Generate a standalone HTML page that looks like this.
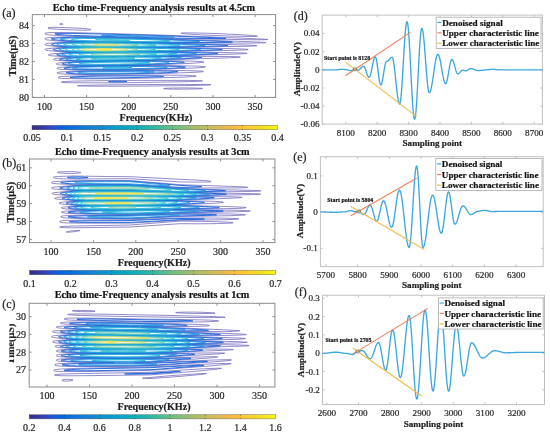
<!DOCTYPE html>
<html><head><meta charset="utf-8"><title>Echo time-frequency analysis</title>
<style>html,body{margin:0;padding:0;background:#fff;}body{width:550px;height:434px;overflow:hidden;}svg{display:block;}</style>
</head><body>
<svg width="550" height="434" viewBox="0 0 550 434" font-family="'Liberation Serif', 'Times New Roman', serif"><defs><filter id="soft" x="-5%" y="-5%" width="110%" height="110%"><feGaussianBlur stdDeviation="0.35"/></filter><clipPath id="clipa"><rect x="32.3" y="14.6" width="243.3" height="82.80000000000001"/></clipPath><clipPath id="clipb"><rect x="29.5" y="159.0" width="245.39999999999998" height="83.6"/></clipPath><clipPath id="clipc"><rect x="29.2" y="303.3" width="245.7" height="83.69999999999999"/></clipPath><clipPath id="ylclipc"><rect x="9.4" y="303.3" width="30" height="83.69999999999999"/></clipPath></defs><rect width="550" height="434" fill="#fff"/><g clip-path="url(#clipa)"><g filter="url(#soft)"><path d="M61.7 24.6 60.9 24.6 60.1 24.4 59.8 24.2 59.8 24.0 60.1 23.8 61.1 23.6 61.9 23.6 62.5 23.8 62.9 24.0 62.9 24.2 62.5 24.4ZM89.3 30.0 85.7 30.2 81.3 30.2 58.9 29.3 51.7 28.8 49.0 28.4 48.3 28.2 47.9 28.0 48.0 27.8 48.5 27.6 49.7 27.5 51.9 27.3 55.1 27.3 59.9 27.4 78.9 28.2 85.2 28.6 89.9 29.2 90.7 29.4 91.0 29.6 90.7 29.8ZM267.7 39.6 262.1 39.8 248.9 39.7 178.1 38.7 145.9 38.1 90.3 36.7 69.5 36.1 52.5 35.2 49.3 35.0 46.9 34.6 45.4 34.2 45.0 34.0 44.8 33.8 44.8 33.6 45.0 33.4 45.3 33.2 47.1 32.8 49.9 32.6 53.7 32.5 73.1 32.6 101.1 33.3 155.5 34.9 205.1 36.7 257.3 38.8 264.5 39.2 267.0 39.4 267.9 39.6ZM256.3 36.4 250.9 36.5 242.5 36.4 228.4 36.0 212.7 35.4 200.2 34.8 190.2 34.2 183.1 33.6 181.7 33.4 181.0 33.2 181.7 33.0 184.1 32.9 192.7 32.9 205.1 33.2 221.7 33.8 238.7 34.6 251.3 35.4 256.9 36.0 257.5 36.2ZM104.9 70.0 80.1 70.1 74.5 70.0 60.7 69.3 58.4 69.0 57.2 68.6 57.0 68.4 57.0 68.2 57.3 68.0 58.1 67.7 59.3 67.5 62.1 67.2 71.5 66.5 79.5 66.2 101.7 65.8 72.1 65.7 59.7 64.9 57.5 64.6 56.5 64.3 56.1 64.0 56.1 63.8 56.3 63.6 56.8 63.4 57.7 63.1 60.1 62.8 68.1 62.1 74.7 61.7 94.7 61.2 91.9 61.1 78.5 61.2 68.7 61.0 57.3 60.4 55.3 60.1 53.9 59.8 53.5 59.6 53.4 59.4 53.5 59.2 53.7 59.0 54.5 58.7 55.9 58.4 63.9 57.7 71.1 57.2 70.4 57.0 63.5 56.7 50.5 55.7 48.9 55.4 48.5 55.2 48.3 55.0 48.3 54.8 48.5 54.6 49.3 54.3 51.9 53.9 65.3 52.7 73.5 52.3 82.7 52.2 66.9 52.0 59.3 51.5 48.7 50.7 46.5 50.4 45.3 50.0 45.1 49.8 45.0 49.6 45.1 49.4 45.5 49.1 46.9 48.8 48.9 48.5 60.5 47.5 65.9 47.2 57.1 46.5 47.5 45.5 45.9 45.2 45.1 44.9 44.8 44.6 44.8 44.4 45.1 44.1 45.7 43.8 46.5 43.6 48.5 43.3 57.5 42.5 62.5 42.2 67.7 42.1 77.5 42.1 83.5 42.1 85.7 42.2 88.0 42.2 87.5 42.2 87.3 42.0 77.9 41.9 67.1 41.5 57.5 40.9 49.5 40.2 46.7 39.8 45.7 39.5 45.1 39.2 44.8 38.8 44.9 38.6 45.1 38.4 45.9 38.1 46.9 37.9 49.5 37.6 55.5 37.3 69.1 36.9 79.9 36.9 93.1 37.3 98.7 37.3 101.9 37.4 107.7 37.5 110.9 37.6 116.5 37.7 119.7 37.8 125.9 37.9 128.5 38.0 134.5 38.1 137.3 38.3 143.1 38.3 146.1 38.5 159.3 38.7 246.2 41.6 260.7 42.2 265.8 42.6 265.4 42.8 262.7 42.9 251.7 43.1 166.3 42.9 161.9 42.9 159.2 43.0 171.1 43.1 237.7 44.8 250.2 45.2 256.5 45.6 256.9 45.8 255.1 46.0 244.3 46.3 168.5 47.4 189.3 47.7 237.8 48.8 244.3 49.1 248.1 49.4 248.1 49.6 247.9 49.6 246.4 49.8 243.2 50.0 230.5 50.4 181.9 51.5 168.1 51.7 146.4 51.8 150.1 51.9 166.9 51.9 186.5 52.1 232.1 52.7 244.4 53.0 246.8 53.2 247.1 53.4 245.5 53.6 238.1 54.0 174.7 55.9 168.1 56.0 199.7 56.4 229.7 56.5 237.3 56.7 239.1 56.8 240.3 57.0 239.7 57.2 237.6 57.4 229.6 57.8 200.7 58.7 172.3 59.7 151.5 60.3 127.3 60.6 128.9 60.7 159.3 60.6 189.7 61.1 196.3 61.3 201.0 61.6 203.1 61.8 203.9 62.0 203.8 62.2 201.2 62.6 193.3 63.2 163.9 64.5 152.9 64.8 132.1 65.3 119.2 65.4 119.7 65.5 160.1 65.5 174.7 65.7 191.1 66.0 198.4 66.2 204.2 66.6 205.4 66.8 205.5 67.0 204.7 67.2 203.1 67.4 194.6 68.0 165.7 69.1 135.5 69.7ZM102.3 42.2 102.2 42.2ZM118.4 42.4 117.7 42.4ZM135.1 42.6 127.5 42.6ZM152.1 42.8 142.1 42.8ZM141.2 52.0 128.4 52.0ZM124.7 60.8 121.9 60.7 112.7 60.8 114.3 60.9ZM109.3 61.0 106.7 60.9 98.1 61.0 99.7 61.1ZM118.2 65.6 107.9 65.5 102.2 65.6 102.7 65.7 105.3 65.7ZM105.3 74.4 88.5 74.5 80.5 74.5 63.3 74.0 60.5 73.8 58.6 73.6 57.2 73.2 57.0 73.0 57.0 72.8 57.3 72.6 57.8 72.4 60.2 72.0 71.5 71.3 82.7 70.8 89.7 70.7 129.9 70.2 148.1 70.2 164.7 70.3 190.1 70.7 199.8 71.0 202.5 71.2 203.5 71.4 203.3 71.6 202.1 71.8 194.7 72.3 165.7 73.4 136.7 74.1ZM110.5 78.6 96.1 78.8 83.3 78.8 67.1 78.6 61.5 78.4 58.9 78.0 58.3 77.8 58.0 77.6 58.0 77.4 58.3 77.2 59.9 76.8 62.1 76.5 65.3 76.3 77.5 75.9 99.5 75.4 150.7 75.1 171.9 75.2 183.3 75.3 192.4 75.6 195.2 75.8 196.3 76.0 196.1 76.2 192.6 76.6 185.4 77.0 175.3 77.4 144.9 78.1ZM122.3 82.8 116.1 82.9 78.5 82.8 66.5 82.7 62.1 82.4 61.3 82.2 61.3 82.0 62.1 81.8 66.9 81.4 74.7 81.1 119.7 80.4 188.3 80.4 199.4 80.6 202.4 80.8 202.4 81.0 200.4 81.2 196.2 81.4 188.7 81.6ZM118.9 86.2 92.5 86.2 79.2 86.0 77.5 85.8 78.7 85.6 82.6 85.4 100.1 85.0 137.9 84.6 176.3 84.4 200.7 84.5 208.5 84.6 210.9 84.8 208.9 85.0 203.8 85.2 184.5 85.6 152.5 86.0ZM193.3 89.0 185.1 89.1 172.5 89.1 165.9 88.9 164.6 88.8 163.6 88.6 164.6 88.4 166.1 88.3 172.3 88.1 183.1 87.9 192.1 88.0 200.1 88.2 202.5 88.4 202.1 88.6 199.1 88.8Z" fill="none" stroke="#6e66b8" stroke-width="0.75" stroke-linejoin="round"/><path d="M223.3 38.6 205.9 38.5 170.0 38.0 150.0 37.6 118.3 36.8 72.6 35.4 64.6 35.0 59.0 34.6 55.6 34.2 54.9 34.0 55.0 33.8 56.1 33.7 59.5 33.5 65.1 33.4 72.9 33.4 101.5 34.0 132.4 34.8 165.5 35.8 207.7 37.4 223.6 38.2 225.8 38.4ZM219.9 42.4 154.3 42.6 104.3 42.0 80.5 41.6 72.2 41.2 58.5 40.2 53.4 39.6 51.7 39.2 51.3 39.0 51.4 38.8 52.5 38.5 55.9 38.1 60.6 37.8 71.5 37.4 79.9 37.3 99.3 37.6 154.3 38.9 221.3 41.4 229.9 41.8 232.5 42.0 232.4 42.2ZM170.1 47.0 131.3 47.2 82.7 47.2 67.4 46.8 59.9 46.1 55.9 45.7 53.1 45.2 51.6 44.8 51.3 44.6 51.3 44.4 52.3 44.0 55.7 43.4 59.9 43.0 67.9 42.4 89.1 42.4 111.1 42.6 167.7 43.4 214.9 44.8 224.3 45.2 227.1 45.4 228.0 45.6 224.5 45.9 214.1 46.2ZM125.3 51.8 84.9 52.0 68.5 51.8 57.3 50.6 53.8 50.0 53.2 49.8 53.0 49.6 53.2 49.4 53.7 49.2 57.2 48.6 62.5 48.0 69.1 47.4 84.7 47.2 124.1 47.3 168.1 47.7 215.7 49.0 222.2 49.4 222.4 49.6 220.4 49.8 211.2 50.2 168.1 51.4ZM97.5 60.8 82.5 60.9 78.4 60.8 66.9 60.4 62.6 60.0 60.0 59.6 59.5 59.4 59.4 59.2 59.8 59.0 60.7 58.8 63.7 58.4 68.7 57.9 82.3 57.1 98.5 56.8 91.7 56.7 73.5 56.8 64.6 56.2 59.3 55.6 57.3 55.2 56.7 55.0 56.6 54.8 56.9 54.6 58.5 54.2 64.2 53.4 73.5 52.7 92.1 52.4 117.3 52.2 166.7 52.2 207.5 53.0 215.3 53.3 217.2 53.4 217.9 53.6 216.4 53.8 209.3 54.2 166.7 55.8 140.3 56.2 143.5 56.3 151.5 56.3 173.7 56.6 193.1 57.0 198.8 57.2 201.7 57.4 201.7 57.6 197.0 58.0 180.9 58.8 151.3 60.0ZM135.1 56.4 125.5 56.4 128.7 56.5ZM116.3 56.6 107.6 56.6 111.1 56.7ZM95.3 65.4 73.5 65.2 67.4 64.8 64.3 64.5 62.7 64.2 62.1 63.9 62.0 63.8 62.4 63.6 64.2 63.2 67.3 62.8 73.7 62.2 84.1 61.8 94.1 61.5 128.1 61.0 151.3 61.1 162.1 61.2 175.1 61.6 182.8 62.0 184.3 62.2 184.4 62.4 181.6 62.8 173.0 63.4 161.6 64.0 152.3 64.4 129.3 65.0ZM125.7 69.4 101.7 69.6 78.3 69.5 73.5 69.3 68.3 69.0 64.9 68.6 64.1 68.4 64.0 68.2 64.5 68.0 66.9 67.6 74.9 66.9 79.5 66.7 93.2 66.4 112.5 66.1 128.7 65.9 148.1 66.0 167.1 66.2 175.9 66.4 183.7 66.8 185.3 67.0 185.4 67.2 182.2 67.6 171.9 68.2 162.5 68.6 141.3 69.1ZM112.5 73.8 85.3 74.0 75.7 73.7 68.3 73.3 66.3 73.0 66.0 72.8 66.6 72.6 67.8 72.4 75.2 71.8 85.5 71.3 126.6 70.8 141.3 70.7 161.1 71.0 168.7 71.1 175.6 71.4 177.7 71.6 177.9 71.8 174.1 72.2 166.8 72.6 149.3 73.2 133.7 73.6ZM104.7 78.0 94.1 78.1 84.3 78.0 75.3 77.8 71.0 77.6 70.0 77.4 70.7 77.2 72.7 77.0 80.1 76.6 88.1 76.3 108.9 76.0 142.1 75.9 155.9 76.0 161.9 76.2 163.6 76.4 162.5 76.6 159.5 76.8 149.1 77.2 130.8 77.6ZM120.9 82.0 114.5 82.0 108.5 81.8 108.5 81.6 111.3 81.4 116.4 81.2 120.9 81.2 125.9 81.4 126.9 81.6Z" fill="none" stroke="#1560d8" stroke-width="0.9" stroke-linejoin="round"/><path d="M173.9 37.2 167.2 37.2 156.3 37.0 139.0 36.6 113.6 35.8 104.2 35.4 101.4 35.2 105.3 35.1 115.3 35.2 149.7 36.0 171.2 36.8 174.4 37.0 174.1 37.2ZM173.5 42.0 154.3 42.2 133.5 42.0 104.1 41.6 82.9 41.2 76.9 40.9 67.2 40.2 61.9 39.6 60.1 39.2 60.0 39.0 60.6 38.8 62.0 38.6 66.9 38.2 74.1 37.9 80.1 37.7 102.3 38.0 136.5 38.8 157.1 39.4 193.0 41.0 199.2 41.4 199.4 41.6 194.5 41.8ZM150.3 46.8 129.7 46.9 107.9 47.0 89.1 46.9 79.3 46.7 67.7 46.3 59.8 45.4 57.8 45.0 57.2 44.8 56.9 44.6 57.0 44.4 57.4 44.2 59.2 43.8 67.7 42.9 82.3 42.6 95.7 42.6 114.6 42.8 133.5 43.1 167.7 43.8 200.3 45.0 203.6 45.2 205.1 45.4 204.2 45.6 193.6 46.0 167.9 46.6ZM126.7 51.6 103.9 51.8 85.3 51.8 76.5 51.6 68.5 51.3 61.7 50.4 59.8 50.0 59.2 49.8 59.0 49.6 59.2 49.4 59.7 49.2 61.7 48.8 68.5 47.9 78.7 47.5 87.7 47.4 112.9 47.4 167.9 48.1 194.2 49.0 200.3 49.4 200.5 49.6 198.8 49.8 195.4 50.0 168.1 51.0ZM107.1 56.4 89.5 56.5 75.7 56.4 73.5 56.3 65.2 55.6 63.7 55.4 62.2 55.0 62.0 54.8 62.2 54.6 63.6 54.2 66.5 53.8 73.5 53.1 77.3 53.0 94.7 52.6 115.1 52.4 137.7 52.4 159.9 52.5 166.7 52.6 189.2 53.2 195.1 53.5 196.5 53.6 196.7 53.8 195.2 54.0 188.6 54.4 166.7 55.4 138.1 56.0ZM103.7 60.4 92.1 60.5 82.5 60.5 71.9 60.0 67.0 59.6 66.1 59.4 65.8 59.2 66.1 59.0 68.1 58.6 75.2 58.0 84.1 57.4 93.3 57.2 108.6 57.0 137.5 56.7 151.3 56.7 175.5 57.3 180.7 57.6 181.2 57.6 181.6 57.8 180.6 58.0 175.5 58.4 151.3 59.6 136.7 59.9ZM114.5 64.8 93.9 65.0 75.1 64.7 71.1 64.4 69.2 64.2 68.4 64.0 68.1 63.8 68.2 63.6 69.9 63.2 74.3 62.7 86.2 62.2 94.1 61.9 104.3 61.7 133.3 61.5 151.5 61.6 160.1 61.8 167.5 62.2 168.8 62.4 168.9 62.6 168.0 62.8 163.8 63.2 153.1 63.8 129.3 64.6ZM114.9 69.0 91.5 69.0 76.9 68.8 73.7 68.6 72.5 68.4 72.1 68.2 72.4 68.0 75.0 67.6 79.7 67.3 104.1 66.7 128.5 66.5 144.5 66.5 159.9 66.8 165.7 67.0 167.3 67.2 167.2 67.4 165.7 67.6 162.9 67.8 152.8 68.2 130.8 68.8ZM112.1 73.2 89.1 73.4 82.2 73.2 79.4 73.0 78.3 72.8 78.4 72.6 79.5 72.4 81.6 72.2 87.9 71.9 135.1 71.3 142.1 71.4 150.2 71.6 153.7 71.8 154.3 72.0 153.0 72.2 150.2 72.4 139.9 72.8 131.9 73.0Z" fill="none" stroke="#2190e0" stroke-width="0.9" stroke-linejoin="round"/><path d="M163.3 41.4 153.9 41.6 133.1 41.5 113.5 41.3 98.1 41.0 79.9 40.4 73.4 39.8 71.5 39.4 71.4 39.2 72.1 39.0 73.1 38.9 75.9 38.6 82.7 38.4 98.9 38.5 118.0 38.8 151.8 39.8 164.0 40.4 169.2 40.8 170.1 41.0 168.8 41.2ZM136.3 46.6 105.1 46.7 83.7 46.5 76.4 46.2 68.9 45.7 65.4 45.2 63.9 44.8 63.7 44.6 63.8 44.4 65.3 44.0 68.9 43.5 74.7 43.2 84.9 42.9 97.3 42.9 110.8 43.0 128.3 43.3 142.5 43.6 168.3 44.4 178.4 45.0 179.9 45.2 179.7 45.4 177.5 45.6 167.7 46.0ZM123.5 51.4 99.9 51.6 81.7 51.4 73.3 51.0 69.1 50.6 65.9 50.0 65.4 49.8 65.2 49.6 65.4 49.4 66.6 49.0 68.5 48.6 70.3 48.4 79.3 47.8 85.9 47.6 104.7 47.6 124.5 47.7 166.1 48.6 174.3 49.0 179.0 49.4 179.2 49.6 178.0 49.8 175.5 50.0 168.1 50.4 162.7 50.5ZM121.1 56.0 106.7 56.1 91.7 56.1 81.3 56.0 73.5 55.6 70.2 55.2 69.3 55.0 68.9 54.8 69.1 54.6 69.6 54.4 73.5 53.8 83.1 53.3 93.3 53.0 107.9 52.7 136.5 52.7 149.5 52.8 166.5 53.1 175.2 53.6 176.8 53.8 176.7 54.0 172.7 54.4 166.7 54.8 161.4 55.0 142.0 55.6ZM101.5 60.0 93.1 60.1 85.9 60.0 81.4 59.8 77.0 59.4 76.0 59.2 75.9 59.0 76.6 58.8 77.8 58.6 82.5 58.1 89.7 57.8 96.9 57.6 109.9 57.4 142.3 57.2 154.2 57.4 160.1 57.7 160.9 57.8 161.7 58.0 161.0 58.2 157.0 58.6 151.3 59.0 145.8 59.2 135.7 59.5ZM115.7 64.2 103.9 64.3 93.9 64.3 82.4 64.0 79.9 63.8 79.4 63.6 80.3 63.4 85.1 63.0 93.1 62.6 99.8 62.4 119.5 62.1 136.6 62.2 145.5 62.4 149.3 62.6 149.9 62.8 148.5 63.0 141.9 63.4 132.3 63.8ZM125.5 68.0 108.5 68.1 102.9 68.0 102.8 67.8 107.5 67.6 116.7 67.4 126.5 67.4 132.1 67.6 130.7 67.8Z" fill="none" stroke="#1cb0d8" stroke-width="0.9" stroke-linejoin="round"/><path d="M129.5 40.4 120.1 40.6 105.9 40.4 97.4 40.0 95.7 39.8 95.7 39.6 98.7 39.4 101.5 39.4 112.3 39.5 127.4 40.0 129.8 40.2 129.7 40.4ZM117.3 46.4 100.7 46.4 84.9 46.1 79.6 45.8 75.3 45.4 72.9 45.0 72.4 44.8 72.3 44.6 72.5 44.4 73.3 44.2 77.5 43.7 82.8 43.4 89.5 43.2 101.5 43.2 113.9 43.4 127.9 43.6 140.2 44.0 148.5 44.4 154.5 44.8 155.9 45.0 156.2 45.2 155.0 45.4 148.1 45.8 137.5 46.2ZM117.3 51.2 99.9 51.3 83.9 51.2 79.1 50.9 74.5 50.4 72.5 50.0 72.0 49.8 71.8 49.6 72.0 49.4 72.4 49.2 73.2 49.0 75.8 48.6 79.9 48.2 84.9 48.0 106.9 47.8 123.1 48.0 130.9 48.2 150.4 49.0 155.2 49.4 155.6 49.6 154.5 49.8 152.1 50.0 143.9 50.4 128.4 51.0ZM107.5 55.8 96.9 55.8 88.9 55.6 83.9 55.4 79.7 55.0 79.0 54.8 78.9 54.6 79.4 54.4 80.5 54.2 84.7 53.8 92.8 53.4 113.5 53.0 133.1 53.0 149.3 53.4 154.3 53.7 155.9 53.8 156.9 54.0 156.5 54.2 152.7 54.6 140.7 55.2 123.5 55.6ZM105.7 59.2 96.7 59.3 93.4 59.2 91.9 59.1 91.3 59.0 91.2 58.8 92.4 58.6 97.5 58.3 107.3 58.2 124.1 58.1 132.9 58.2 134.7 58.4 125.1 58.8Z" fill="none" stroke="#30bcd0" stroke-width="0.9" stroke-linejoin="round"/><path d="M115.1 46.0 101.6 46.0 88.9 45.7 85.3 45.5 82.7 45.2 81.7 45.0 81.1 44.8 81.1 44.6 81.6 44.4 82.6 44.2 86.1 43.9 89.5 43.8 97.5 43.6 112.5 43.7 130.4 44.2 134.2 44.4 138.3 44.8 138.9 45.0 138.6 45.2 137.2 45.4 129.3 45.8ZM107.5 51.0 90.3 50.9 84.8 50.8 81.5 50.6 79.7 50.3 78.3 50.0 77.8 49.8 77.7 49.6 77.8 49.4 78.9 49.0 80.0 48.8 84.3 48.4 92.5 48.2 102.9 48.1 123.9 48.4 129.3 48.6 134.7 49.0 137.2 49.4 137.4 49.6 136.9 49.8 133.8 50.2 127.7 50.6 120.9 50.8ZM122.3 55.2 111.5 55.3 99.1 55.2 93.6 55.0 91.8 54.8 91.1 54.6 91.4 54.4 92.7 54.2 94.9 54.0 105.1 53.6 117.3 53.4 131.5 53.6 137.5 53.8 139.5 54.0 140.1 54.2 139.4 54.4 134.3 54.8Z" fill="none" stroke="#70c8b0" stroke-width="0.9" stroke-linejoin="round"/><path d="M108.5 45.4 103.5 45.4 98.5 45.2 95.1 45.0 94.1 44.8 94.6 44.6 95.9 44.5 100.3 44.3 105.3 44.3 112.5 44.4 116.8 44.6 119.0 44.8 119.1 45.0 116.7 45.2ZM108.3 50.6 98.1 50.6 89.2 50.4 84.7 50.1 83.5 49.9 83.0 49.8 82.8 49.6 82.9 49.4 83.6 49.2 85.1 49.0 94.9 48.6 107.1 48.5 119.7 48.8 124.4 49.0 126.6 49.2 127.7 49.4 127.9 49.6 127.4 49.8 126.0 50.0 123.0 50.2Z" fill="none" stroke="#d8dc70" stroke-width="0.9" stroke-linejoin="round"/><path d="M109.7 49.8 102.1 49.9 98.0 49.8 96.6 49.6 97.4 49.4 99.5 49.3 105.5 49.2 110.5 49.4 111.3 49.6Z" fill="none" stroke="#f5e638" stroke-width="0.9" stroke-linejoin="round"/></g></g>
<line x1="44.50" y1="97.40" x2="44.50" y2="95.00" stroke="#8c8c8c" stroke-width="1.0"/>
<line x1="44.50" y1="14.60" x2="44.50" y2="17.00" stroke="#8c8c8c" stroke-width="1.0"/>
<line x1="86.62" y1="97.40" x2="86.62" y2="95.00" stroke="#8c8c8c" stroke-width="1.0"/>
<line x1="86.62" y1="14.60" x2="86.62" y2="17.00" stroke="#8c8c8c" stroke-width="1.0"/>
<line x1="128.74" y1="97.40" x2="128.74" y2="95.00" stroke="#8c8c8c" stroke-width="1.0"/>
<line x1="128.74" y1="14.60" x2="128.74" y2="17.00" stroke="#8c8c8c" stroke-width="1.0"/>
<line x1="170.86" y1="97.40" x2="170.86" y2="95.00" stroke="#8c8c8c" stroke-width="1.0"/>
<line x1="170.86" y1="14.60" x2="170.86" y2="17.00" stroke="#8c8c8c" stroke-width="1.0"/>
<line x1="212.98" y1="97.40" x2="212.98" y2="95.00" stroke="#8c8c8c" stroke-width="1.0"/>
<line x1="212.98" y1="14.60" x2="212.98" y2="17.00" stroke="#8c8c8c" stroke-width="1.0"/>
<line x1="255.10" y1="97.40" x2="255.10" y2="95.00" stroke="#8c8c8c" stroke-width="1.0"/>
<line x1="255.10" y1="14.60" x2="255.10" y2="17.00" stroke="#8c8c8c" stroke-width="1.0"/>
<line x1="32.30" y1="97.40" x2="34.70" y2="97.40" stroke="#8c8c8c" stroke-width="1.0"/>
<line x1="275.60" y1="97.40" x2="273.20" y2="97.40" stroke="#8c8c8c" stroke-width="1.0"/>
<line x1="32.30" y1="79.45" x2="34.70" y2="79.45" stroke="#8c8c8c" stroke-width="1.0"/>
<line x1="275.60" y1="79.45" x2="273.20" y2="79.45" stroke="#8c8c8c" stroke-width="1.0"/>
<line x1="32.30" y1="61.50" x2="34.70" y2="61.50" stroke="#8c8c8c" stroke-width="1.0"/>
<line x1="275.60" y1="61.50" x2="273.20" y2="61.50" stroke="#8c8c8c" stroke-width="1.0"/>
<line x1="32.30" y1="43.55" x2="34.70" y2="43.55" stroke="#8c8c8c" stroke-width="1.0"/>
<line x1="275.60" y1="43.55" x2="273.20" y2="43.55" stroke="#8c8c8c" stroke-width="1.0"/>
<line x1="32.30" y1="25.60" x2="34.70" y2="25.60" stroke="#8c8c8c" stroke-width="1.0"/>
<line x1="275.60" y1="25.60" x2="273.20" y2="25.60" stroke="#8c8c8c" stroke-width="1.0"/>
<rect x="32.30" y="14.60" width="243.30" height="82.80" fill="none" stroke="#8c8c8c" stroke-width="1.0"/>
<text x="44.50" y="109.50" font-size="10" font-weight="normal" text-anchor="middle" fill="#262626" stroke="#262626" stroke-width="0.2" >100</text>
<text x="86.62" y="109.50" font-size="10" font-weight="normal" text-anchor="middle" fill="#262626" stroke="#262626" stroke-width="0.2" >150</text>
<text x="128.74" y="109.50" font-size="10" font-weight="normal" text-anchor="middle" fill="#262626" stroke="#262626" stroke-width="0.2" >200</text>
<text x="170.86" y="109.50" font-size="10" font-weight="normal" text-anchor="middle" fill="#262626" stroke="#262626" stroke-width="0.2" >250</text>
<text x="212.98" y="109.50" font-size="10" font-weight="normal" text-anchor="middle" fill="#262626" stroke="#262626" stroke-width="0.2" >300</text>
<text x="255.10" y="109.50" font-size="10" font-weight="normal" text-anchor="middle" fill="#262626" stroke="#262626" stroke-width="0.2" >350</text>
<text x="29.10" y="100.70" font-size="10" font-weight="normal" text-anchor="end" fill="#262626" stroke="#262626" stroke-width="0.2" >80</text>
<text x="29.10" y="82.75" font-size="10" font-weight="normal" text-anchor="end" fill="#262626" stroke="#262626" stroke-width="0.2" >81</text>
<text x="29.10" y="64.80" font-size="10" font-weight="normal" text-anchor="end" fill="#262626" stroke="#262626" stroke-width="0.2" >82</text>
<text x="29.10" y="46.85" font-size="10" font-weight="normal" text-anchor="end" fill="#262626" stroke="#262626" stroke-width="0.2" >83</text>
<text x="29.10" y="28.90" font-size="10" font-weight="normal" text-anchor="end" fill="#262626" stroke="#262626" stroke-width="0.2" >84</text>
<text x="2.20" y="16.60" font-size="12" font-weight="normal" text-anchor="start" fill="#222" stroke="#222" stroke-width="0.2" >(a)</text>
<text x="153.95" y="10.90" font-size="10.25" font-weight="bold" text-anchor="middle" fill="#111" stroke="#111" stroke-width="0.2" >Echo time-Frequency analysis results at 4.5cm</text>
<text x="155.95" y="121.00" font-size="10.15" font-weight="bold" text-anchor="middle" fill="#222" stroke="#222" stroke-width="0.2" >Frequency(KHz)</text>
<text x="12.90" y="56.00" font-size="10.2" font-weight="bold" text-anchor="middle" fill="#222" stroke="#222" stroke-width="0.2" transform="rotate(-90 12.90 56.00)" dy="0.33em">Time(μS)</text>
<linearGradient id="cbga" x1="0" x2="1" y1="0" y2="0"><stop offset="0.000" stop-color="#352a87"/><stop offset="0.031" stop-color="#36369f"/><stop offset="0.062" stop-color="#3243b9"/><stop offset="0.094" stop-color="#2152d2"/><stop offset="0.125" stop-color="#0462e0"/><stop offset="0.156" stop-color="#046ce0"/><stop offset="0.188" stop-color="#0c74dd"/><stop offset="0.219" stop-color="#127cd8"/><stop offset="0.250" stop-color="#1484d4"/><stop offset="0.281" stop-color="#118dd2"/><stop offset="0.312" stop-color="#0a97d1"/><stop offset="0.344" stop-color="#069fce"/><stop offset="0.375" stop-color="#06a6c7"/><stop offset="0.406" stop-color="#09abbf"/><stop offset="0.438" stop-color="#13b0b6"/><stop offset="0.469" stop-color="#21b4ac"/><stop offset="0.500" stop-color="#33b8a1"/><stop offset="0.531" stop-color="#47bb95"/><stop offset="0.562" stop-color="#5ebe89"/><stop offset="0.594" stop-color="#75bf7e"/><stop offset="0.625" stop-color="#8bbf75"/><stop offset="0.656" stop-color="#9fbe6d"/><stop offset="0.688" stop-color="#b1bd66"/><stop offset="0.719" stop-color="#c2bc5f"/><stop offset="0.750" stop-color="#d3bb58"/><stop offset="0.781" stop-color="#e3b951"/><stop offset="0.812" stop-color="#f2b949"/><stop offset="0.844" stop-color="#febf3c"/><stop offset="0.875" stop-color="#fec932"/><stop offset="0.906" stop-color="#f9d329"/><stop offset="0.938" stop-color="#f5de21"/><stop offset="0.969" stop-color="#f5eb18"/><stop offset="1.000" stop-color="#f9fb0e"/></linearGradient>
<rect x="32.00" y="125.30" width="245.50" height="4.50" fill="url(#cbga)" stroke="#555" stroke-width="0.4"/>
<text x="32.00" y="141.40" font-size="10" font-weight="normal" text-anchor="middle" fill="#262626" stroke="#262626" stroke-width="0.2" >0.05</text>
<line x1="67.07" y1="125.30" x2="67.07" y2="126.30" stroke="#333" stroke-width="0.6"/>
<line x1="67.07" y1="129.80" x2="67.07" y2="128.80" stroke="#333" stroke-width="0.6"/>
<text x="67.07" y="141.40" font-size="10" font-weight="normal" text-anchor="middle" fill="#262626" stroke="#262626" stroke-width="0.2" >0.1</text>
<line x1="102.14" y1="125.30" x2="102.14" y2="126.30" stroke="#333" stroke-width="0.6"/>
<line x1="102.14" y1="129.80" x2="102.14" y2="128.80" stroke="#333" stroke-width="0.6"/>
<text x="102.14" y="141.40" font-size="10" font-weight="normal" text-anchor="middle" fill="#262626" stroke="#262626" stroke-width="0.2" >0.15</text>
<line x1="137.21" y1="125.30" x2="137.21" y2="126.30" stroke="#333" stroke-width="0.6"/>
<line x1="137.21" y1="129.80" x2="137.21" y2="128.80" stroke="#333" stroke-width="0.6"/>
<text x="137.21" y="141.40" font-size="10" font-weight="normal" text-anchor="middle" fill="#262626" stroke="#262626" stroke-width="0.2" >0.2</text>
<line x1="172.29" y1="125.30" x2="172.29" y2="126.30" stroke="#333" stroke-width="0.6"/>
<line x1="172.29" y1="129.80" x2="172.29" y2="128.80" stroke="#333" stroke-width="0.6"/>
<text x="172.29" y="141.40" font-size="10" font-weight="normal" text-anchor="middle" fill="#262626" stroke="#262626" stroke-width="0.2" >0.25</text>
<line x1="207.36" y1="125.30" x2="207.36" y2="126.30" stroke="#333" stroke-width="0.6"/>
<line x1="207.36" y1="129.80" x2="207.36" y2="128.80" stroke="#333" stroke-width="0.6"/>
<text x="207.36" y="141.40" font-size="10" font-weight="normal" text-anchor="middle" fill="#262626" stroke="#262626" stroke-width="0.2" >0.3</text>
<line x1="242.43" y1="125.30" x2="242.43" y2="126.30" stroke="#333" stroke-width="0.6"/>
<line x1="242.43" y1="129.80" x2="242.43" y2="128.80" stroke="#333" stroke-width="0.6"/>
<text x="242.43" y="141.40" font-size="10" font-weight="normal" text-anchor="middle" fill="#262626" stroke="#262626" stroke-width="0.2" >0.35</text>
<text x="277.50" y="141.40" font-size="10" font-weight="normal" text-anchor="middle" fill="#262626" stroke="#262626" stroke-width="0.2" >0.4</text>
<g clip-path="url(#clipb)"><g filter="url(#soft)"><path d="M73.7 173.4 68.1 173.4 61.9 173.2 58.2 172.8 57.6 172.6 57.4 172.4 57.7 172.2 58.7 172.0 62.9 171.7 69.7 171.6 74.5 171.7 79.3 172.2 80.4 172.4 80.9 172.6 80.4 172.8 79.2 173.0ZM206.9 182.0 195.7 182.1 179.9 181.9 129.9 178.7 105.1 178.8 78.3 179.1 63.3 178.8 58.7 178.6 55.5 178.3 53.7 177.9 53.1 177.6 53.1 177.4 53.4 177.2 53.9 177.0 54.8 176.8 58.3 176.5 63.3 176.3 74.7 176.0 79.9 176.1 106.1 176.5 130.1 176.7 179.9 179.3 191.2 179.8 201.8 180.4 208.7 181.0 210.9 181.4 211.0 181.6 210.1 181.8ZM135.3 214.2 130.1 214.3 118.1 214.3 88.3 214.1 79.7 213.8 70.1 213.5 65.2 213.2 62.4 212.8 61.4 212.4 61.3 212.2 61.4 212.0 61.7 211.8 63.2 211.4 65.7 211.1 72.9 210.7 81.5 210.4 97.1 210.0 84.5 209.9 78.9 209.8 65.1 208.8 63.0 208.6 61.9 208.3 61.3 208.0 61.3 207.8 61.5 207.6 62.5 207.2 63.8 207.0 76.5 206.0 83.1 205.6 75.7 205.4 61.5 204.1 60.0 203.8 59.2 203.4 59.1 203.2 59.2 203.0 60.0 202.6 62.5 202.2 76.1 200.9 89.3 200.8 86.3 200.7 81.1 200.7 73.1 200.5 58.5 199.3 56.1 199.0 54.9 198.6 54.7 198.4 54.7 198.2 54.9 198.0 55.3 197.8 56.3 197.5 58.5 197.3 72.3 196.0 68.3 195.7 60.1 194.9 54.7 194.4 52.7 194.0 52.2 193.8 52.0 193.6 52.0 193.4 52.2 193.2 52.6 193.0 54.4 192.6 60.1 192.1 68.3 191.3 72.3 191.0 80.7 190.8 89.9 190.8 129.9 190.8 135.9 191.0 136.1 190.8 131.3 190.8 130.9 190.7 130.8 190.6 130.1 190.6 121.7 190.6 120.7 190.7 115.9 190.8 84.1 190.8 74.9 190.7 56.5 189.3 53.5 189.0 52.5 188.8 51.7 188.4 51.5 188.2 51.5 188.0 51.7 187.8 52.7 187.4 55.1 187.0 68.3 185.9 76.1 185.4 84.9 185.2 132.1 185.2 129.9 185.1 110.5 185.1 87.1 184.8 76.5 184.7 66.9 184.3 57.1 183.8 53.2 183.4 51.9 183.0 51.6 182.8 51.5 182.6 51.6 182.4 51.9 182.2 53.2 181.8 55.3 181.5 58.7 181.3 68.3 180.9 77.1 180.6 104.1 180.5 130.1 180.5 180.1 184.7 200.9 185.4 231.6 186.4 244.1 186.9 247.7 187.2 247.7 187.4 245.9 187.6 238.1 187.9 180.1 188.1 143.5 185.9 141.7 185.9 141.6 186.0 141.7 186.0 144.5 186.0 144.6 186.2 144.7 186.2 147.3 186.2 147.5 186.3 147.6 186.4 147.7 186.4 150.3 186.5 150.7 186.6 153.3 186.7 153.7 186.8 156.1 186.9 156.7 187.0 159.1 187.1 159.7 187.2 162.1 187.3 162.7 187.4 164.9 187.5 165.7 187.6 167.9 187.7 168.7 187.8 170.9 187.9 171.7 188.0 173.7 188.1 174.7 188.2 180.5 188.6 224.7 189.8 252.2 190.4 258.1 190.6 260.7 190.8 260.7 191.0 258.1 191.2 252.2 191.4 208.8 192.0 197.2 192.2 193.5 192.4 224.3 193.2 254.7 193.7 260.7 194.0 260.7 194.2 258.5 194.4 251.2 194.6 220.5 195.2 189.9 196.1 180.9 196.2 235.7 196.9 240.1 197.1 241.4 197.2 242.2 197.4 241.4 197.6 239.1 197.8 226.9 198.4 178.5 200.3 143.1 200.4 142.1 200.5 140.3 200.6 121.5 200.6 133.1 200.7 136.9 200.6 158.1 200.6 162.3 200.5 171.3 200.5 210.1 201.2 215.7 201.4 220.7 201.7 223.0 202.0 223.4 202.2 223.0 202.4 220.0 202.8 213.5 203.3 171.3 205.1 160.3 205.2 179.5 205.3 187.9 205.5 229.3 206.6 242.3 207.2 245.1 207.4 246.1 207.6 246.1 207.8 244.9 208.0 242.3 208.2 238.0 208.4 227.1 208.6 173.3 209.4 238.7 210.3 246.4 210.6 249.4 210.8 250.4 211.0 249.4 211.2 244.7 211.5 234.3 211.8 180.1 212.9 149.9 213.9ZM135.2 185.4 132.7 185.3 132.6 185.4ZM138.2 185.6 135.7 185.5 135.6 185.6ZM141.4 185.8 138.7 185.7 138.6 185.8ZM141.5 191.0 136.3 191.0 141.3 191.1ZM146.8 191.2 143.5 191.2 145.7 191.2 146.5 191.3ZM152.2 191.4 150.6 191.4ZM130.7 219.0 90.9 218.7 78.3 218.5 66.7 218.0 64.3 217.9 62.4 217.6 61.1 217.2 60.8 217.0 60.7 216.8 60.8 216.6 61.1 216.4 62.6 216.0 64.7 215.7 67.5 215.6 77.7 215.3 90.7 215.1 130.1 215.0 150.1 214.3 180.1 213.5 205.3 213.7 230.1 214.0 242.2 214.4 244.7 214.6 245.5 214.8 244.7 215.0 242.2 215.2 229.5 215.7 179.9 216.5 150.1 218.1ZM131.5 223.0 129.9 223.1 90.5 223.2 76.3 223.1 66.3 222.9 63.3 222.7 61.1 222.4 59.8 222.0 59.6 221.8 59.6 221.6 59.8 221.4 60.2 221.2 61.8 220.8 64.1 220.5 67.3 220.4 88.5 220.0 129.9 219.9 153.9 218.9 180.1 217.9 210.3 218.0 224.8 218.2 232.6 218.4 236.8 218.6 238.7 218.8 238.7 219.0 237.0 219.2 233.7 219.4 221.3 219.8 179.9 220.3ZM88.1 227.6 70.9 227.8 62.9 227.6 60.3 227.4 59.7 227.2 59.7 227.0 60.4 226.8 61.9 226.6 64.2 226.4 74.6 226.0 129.9 225.0 180.1 221.1 201.5 221.3 219.3 221.8 228.7 222.2 232.8 222.6 233.2 222.8 232.2 223.0 229.3 223.2 216.3 223.6 199.5 223.8 179.9 223.7 130.1 227.0ZM68.7 232.2 66.7 232.2 66.2 232.0 66.5 231.8 67.2 231.6 69.3 231.2 72.5 230.8 75.5 230.6 79.5 230.4 79.9 230.4 80.1 230.6 78.2 231.0 74.6 231.6 71.3 232.0Z" fill="none" stroke="#6e66b8" stroke-width="0.75" stroke-linejoin="round"/><path d="M78.9 178.2 71.2 178.0 68.6 177.8 67.4 177.6 67.6 177.4 69.4 177.2 73.1 177.0 77.9 176.9 81.7 177.0 87.1 177.4 88.0 177.6 86.8 177.8 84.2 178.0ZM191.9 187.2 179.9 187.4 154.8 186.0 129.9 184.5 103.3 184.4 75.5 183.9 69.3 183.6 64.9 183.3 61.9 183.0 61.0 182.8 60.7 182.6 61.1 182.4 62.1 182.2 66.3 181.8 71.7 181.5 77.9 181.3 105.7 181.0 129.9 181.1 150.5 182.8 179.9 185.4 192.8 186.0 201.5 186.6 201.8 186.8 199.3 187.0ZM186.7 192.0 179.7 192.2 130.1 190.4 84.7 190.5 76.1 190.4 62.0 188.8 60.1 188.4 59.7 188.2 59.6 188.0 60.0 187.8 60.7 187.6 63.1 187.2 76.1 185.7 84.7 185.5 130.0 185.4 180.1 188.8 216.3 190.2 224.3 190.6 225.8 190.8 224.5 191.0 219.2 191.2ZM109.5 200.4 84.7 200.5 75.1 200.3 65.9 199.2 62.7 198.6 62.1 198.4 62.0 198.2 62.4 198.0 65.3 197.4 74.9 196.2 79.2 196.0 72.3 195.7 63.2 194.4 61.1 194.0 60.0 193.6 60.0 193.4 60.4 193.2 62.0 192.8 72.3 191.3 83.5 191.1 130.1 191.1 164.3 192.0 179.9 192.5 190.1 192.6 222.9 193.8 226.0 194.0 226.4 194.2 219.8 194.6 189.9 195.8 179.9 195.9 155.5 196.0 166.3 196.1 175.3 196.3 180.1 196.6 211.0 197.4 213.9 197.6 214.3 197.8 210.6 198.2 204.0 198.6 175.3 200.0 156.2 200.2ZM123.5 209.6 85.1 209.7 75.3 209.0 71.6 208.6 68.9 208.2 68.2 208.0 68.0 207.8 68.3 207.6 70.3 207.2 75.6 206.6 82.4 206.0 86.4 205.8 103.0 205.6 85.5 205.4 78.1 205.3 70.0 204.2 66.7 203.6 66.2 203.4 66.0 203.2 66.2 203.0 66.7 202.8 68.7 202.4 77.9 201.2 83.5 201.0 130.1 200.9 152.5 200.8 171.1 200.8 198.6 201.8 203.9 202.2 204.5 202.4 204.1 202.6 200.7 203.0 191.6 203.6 171.1 204.8 147.7 205.3 135.3 205.4 170.9 205.5 179.9 205.7 209.4 206.8 216.7 207.2 218.7 207.4 219.3 207.6 218.0 207.8 216.3 207.9 209.2 208.2 180.1 208.9 170.9 209.2ZM132.1 214.0 120.4 214.0 92.3 213.6 80.3 213.2 71.9 212.8 68.5 212.4 68.0 212.2 68.2 212.0 69.2 211.8 72.1 211.5 76.6 211.2 87.5 210.7 123.5 210.0 152.1 209.8 179.9 210.0 196.6 210.2 215.4 210.6 220.9 210.8 223.3 211.0 222.7 211.2 214.4 211.6 179.9 212.4 150.9 213.5ZM131.7 218.4 126.7 218.5 97.1 218.2 86.5 218.0 77.5 217.7 69.5 217.2 68.3 217.0 68.0 216.8 68.7 216.6 70.3 216.4 76.1 216.1 84.9 215.8 94.9 215.6 130.1 215.5 151.4 214.8 180.1 214.1 206.7 214.4 213.6 214.6 216.6 214.8 216.2 215.0 207.5 215.4 179.9 215.9 149.2 217.6ZM130.5 222.4 96.1 222.4 79.3 222.3 72.3 222.0 69.8 221.8 69.5 221.6 70.7 221.4 73.7 221.2 79.5 221.0 90.5 220.8 130.1 220.6 156.0 219.4 179.9 218.5 195.7 218.7 201.7 218.8 204.5 219.0 202.8 219.2 197.5 219.4 179.9 219.7 154.2 221.2Z" fill="none" stroke="#1560d8" stroke-width="0.9" stroke-linejoin="round"/><path d="M169.7 185.7 168.9 185.7 167.1 185.7 157.9 185.4 130.1 183.9 111.3 183.8 92.9 183.6 79.1 183.2 76.1 182.9 75.2 182.8 74.9 182.6 75.8 182.4 78.9 182.2 95.5 181.8 113.5 181.7 129.9 181.7 142.6 182.8 157.7 184.2 167.2 185.2 169.8 185.6ZM179.9 191.8 158.7 191.2 129.9 190.1 94.3 190.2 80.3 190.1 75.3 189.9 67.9 188.6 66.7 188.2 66.7 188.0 67.0 187.8 68.6 187.4 75.3 186.2 80.5 185.9 94.1 185.8 130.1 185.7 158.9 187.6 180.1 189.2 197.4 190.0 204.1 190.4 205.6 190.6 205.3 190.8 202.8 191.0ZM183.7 195.6 163.1 195.8 81.3 195.7 76.5 195.5 72.3 195.2 66.1 194.0 65.3 193.6 65.3 193.4 65.6 193.2 66.9 192.8 72.3 191.8 79.0 191.4 84.9 191.3 130.1 191.3 165.2 192.2 180.1 192.7 189.9 192.9 207.2 193.8 209.3 194.0 209.7 194.2 208.4 194.4 205.8 194.6 190.1 195.4ZM110.1 200.2 85.1 200.2 79.5 200.1 74.7 199.8 68.8 198.8 67.6 198.4 67.5 198.2 67.8 198.0 70.2 197.4 74.9 196.6 83.9 196.1 111.7 195.9 137.7 196.0 162.7 196.4 175.3 196.7 180.1 197.0 194.1 197.6 196.4 197.8 196.9 198.0 196.2 198.2 191.9 198.6 175.3 199.6 150.3 200.0ZM135.1 205.2 105.3 205.3 84.9 205.2 77.9 204.8 72.4 203.8 71.2 203.4 71.0 203.2 71.2 203.0 72.4 202.6 77.9 201.6 86.5 201.2 129.9 201.1 150.9 201.0 171.1 201.2 188.0 202.2 189.6 202.4 190.0 202.6 189.5 202.8 188.1 203.0 171.1 204.3 154.3 204.9ZM119.3 209.4 99.3 209.4 87.1 209.3 84.4 209.2 78.0 208.6 75.2 208.2 74.5 208.0 74.2 207.8 74.5 207.6 75.2 207.4 77.6 207.0 83.7 206.4 90.3 206.1 105.5 205.8 126.7 205.7 150.1 205.7 169.5 205.9 180.0 206.2 189.1 206.6 196.2 207.0 198.4 207.2 199.3 207.4 198.8 207.6 193.7 207.9 170.9 208.8 146.1 209.2ZM130.7 213.6 121.3 213.6 100.1 213.2 91.2 213.0 83.1 212.6 80.5 212.4 79.6 212.2 79.8 212.0 83.3 211.6 91.4 211.2 124.5 210.4 150.7 210.2 187.4 210.6 195.3 210.8 198.3 211.0 198.8 211.2 196.7 211.4 192.2 211.6 179.9 211.9 150.9 213.1ZM131.3 217.8 117.3 217.7 94.8 217.4 89.8 217.2 87.5 217.0 87.4 216.8 89.5 216.6 99.7 216.3 129.9 216.2 144.5 215.6 159.0 215.2 173.7 214.9 180.0 215.0 176.2 215.4 160.4 216.4 145.3 217.2Z" fill="none" stroke="#2196e0" stroke-width="0.9" stroke-linejoin="round"/><path d="M180.7 191.2 173.7 191.2 159.9 190.9 129.9 189.8 102.1 189.8 82.9 189.8 79.3 189.6 75.9 189.2 73.7 188.6 72.9 188.2 72.9 188.0 73.0 187.8 74.0 187.4 75.9 186.9 78.9 186.5 82.9 186.3 102.1 186.1 129.9 186.0 159.5 188.0 169.5 188.8 180.1 189.8 186.4 190.2 188.2 190.4 188.7 190.6 187.4 190.8ZM176.9 195.4 161.3 195.5 83.1 195.4 78.2 195.2 74.1 194.8 72.3 194.5 70.7 194.0 70.0 193.6 70.0 193.4 70.7 193.0 72.0 192.6 74.1 192.2 77.9 191.8 81.7 191.6 130.1 191.6 169.4 192.6 188.9 193.4 194.6 193.8 196.2 194.0 196.7 194.2 195.9 194.4 194.1 194.6 188.2 195.0ZM140.5 199.8 85.3 200.0 79.9 199.7 75.2 199.2 72.9 198.6 72.5 198.4 72.4 198.2 72.6 198.0 73.7 197.6 75.1 197.3 76.9 197.0 81.0 196.6 86.1 196.4 129.9 196.2 150.7 196.5 165.3 196.9 175.3 197.3 181.7 198.0 182.1 198.2 181.5 198.4 180.1 198.6 175.6 199.0 169.7 199.3 155.7 199.6ZM130.7 205.0 101.3 205.0 86.9 204.9 81.9 204.6 78.4 204.2 76.1 203.6 75.7 203.4 75.6 203.2 75.7 203.0 76.7 202.6 78.1 202.3 79.7 202.0 84.1 201.6 88.5 201.5 148.1 201.3 156.1 201.4 162.9 201.5 171.3 201.9 174.6 202.2 177.2 202.6 177.3 202.8 176.7 203.0 172.0 203.6 163.0 204.2 153.6 204.6ZM131.9 209.0 112.9 209.1 93.9 209.0 84.9 208.6 81.9 208.2 81.1 208.0 80.7 207.8 80.9 207.6 82.5 207.2 86.0 206.8 94.3 206.4 103.5 206.2 118.9 206.0 130.1 206.0 150.7 206.1 166.3 206.4 172.8 206.6 179.4 207.0 180.8 207.2 180.9 207.4 177.0 207.8 170.1 208.2 160.3 208.5ZM140.1 212.8 129.9 213.0 118.1 212.8 105.2 212.4 102.5 212.2 102.2 212.0 104.1 211.8 107.9 211.6 125.7 211.1 148.1 210.8 163.4 211.0 168.6 211.2 169.6 211.4 168.2 211.6 162.1 212.0 153.7 212.4Z" fill="none" stroke="#1cb4d4" stroke-width="0.9" stroke-linejoin="round"/><path d="M168.1 190.4 162.3 190.4 153.5 190.2 129.9 189.3 104.7 189.4 84.3 189.2 81.7 189.1 79.6 188.8 78.2 188.4 77.9 188.2 77.9 188.0 78.0 187.8 78.4 187.6 79.9 187.2 81.9 187.0 84.5 186.8 104.1 186.6 129.9 186.5 152.9 188.0 164.8 189.0 169.9 189.6 171.7 190.0 171.5 190.2 171.3 190.2ZM166.1 195.2 83.7 195.0 79.5 194.8 76.7 194.5 74.9 194.0 74.5 193.8 74.3 193.6 74.3 193.4 74.9 193.0 75.5 192.8 77.3 192.4 79.7 192.2 83.1 192.0 130.1 191.9 165.9 192.8 174.3 193.2 182.3 193.8 183.6 194.0 184.0 194.2 183.5 194.4 180.1 194.8 174.9 195.0ZM115.3 199.6 87.7 199.6 82.1 199.4 79.2 199.0 77.8 198.6 77.5 198.4 77.4 198.2 77.5 198.0 77.8 197.8 79.2 197.4 81.3 197.1 84.1 196.8 86.7 196.7 121.3 196.5 139.3 196.6 152.3 197.0 162.7 197.4 167.4 197.8 168.5 198.0 168.7 198.2 168.1 198.4 166.5 198.6 163.8 198.8 153.1 199.2 140.5 199.5ZM135.9 204.6 115.5 204.7 88.9 204.6 85.4 204.4 82.7 204.1 80.8 203.6 80.4 203.4 80.3 203.2 80.4 203.0 81.1 202.7 83.1 202.3 85.7 202.0 89.3 201.8 145.7 201.6 153.7 201.7 160.0 202.0 164.3 202.4 165.3 202.6 165.7 202.8 165.6 203.0 163.8 203.4 160.0 203.8 153.5 204.2 147.5 204.4ZM131.3 208.6 118.3 208.7 103.3 208.6 94.5 208.3 91.6 208.0 90.8 207.8 90.9 207.6 91.6 207.4 95.1 207.1 99.8 206.8 106.8 206.6 125.3 206.4 147.6 206.6 158.3 207.0 160.2 207.2 160.8 207.4 160.0 207.6 154.5 208.0 149.5 208.2Z" fill="none" stroke="#34c0d0" stroke-width="0.9" stroke-linejoin="round"/><path d="M149.5 189.0 145.5 189.0 129.9 188.5 113.5 188.6 99.9 188.5 92.9 188.4 89.9 188.2 89.0 188.0 90.1 187.8 93.5 187.6 100.6 187.4 114.3 187.3 129.9 187.3 145.4 188.4 149.4 188.8 149.7 189.0ZM161.1 194.8 84.7 194.6 82.1 194.4 80.1 194.2 78.7 193.8 78.4 193.6 78.4 193.4 78.7 193.2 79.2 193.0 80.1 192.8 81.9 192.6 84.5 192.4 130.1 192.4 160.1 193.0 164.5 193.2 170.7 193.6 172.4 193.8 173.3 194.0 173.4 194.2 172.3 194.4 168.1 194.7ZM110.9 199.2 89.3 199.2 84.9 199.0 83.1 198.8 82.2 198.6 81.8 198.4 81.6 198.2 81.7 198.0 82.9 197.6 84.1 197.4 87.3 197.2 111.1 197.0 134.8 197.0 142.5 197.2 148.0 197.4 150.9 197.6 152.9 197.8 153.8 198.0 153.8 198.2 152.7 198.4 150.9 198.6 143.3 198.9ZM133.5 204.2 111.3 204.3 89.9 204.1 87.9 204.0 86.2 203.8 85.3 203.6 84.9 203.4 84.7 203.2 84.9 203.0 85.3 202.8 86.2 202.6 87.9 202.4 90.1 202.3 110.9 202.1 148.3 202.2 152.7 202.3 155.6 202.6 156.4 202.8 156.5 203.0 156.0 203.2 154.9 203.4 151.7 203.7 147.7 203.9ZM127.9 208.0 121.3 208.1 115.1 208.0 109.7 207.8 108.8 207.6 109.9 207.4 116.1 207.1 121.7 207.0 127.9 207.0 133.4 207.2 135.6 207.4 135.4 207.6 133.0 207.8Z" fill="none" stroke="#98d0a8" stroke-width="0.9" stroke-linejoin="round"/><path d="M142.3 193.8 106.1 193.8 95.4 193.6 95.4 193.4 106.3 193.2 129.9 193.2 143.4 193.6ZM116.1 198.4 100.7 198.4 93.8 198.2 94.8 198.0 101.4 197.8 120.5 197.8 124.6 197.8 128.5 198.0 125.9 198.2ZM127.9 203.4 112.5 203.5 108.2 203.4 104.8 203.2 109.7 203.0 123.5 202.9 128.0 203.0 131.8 203.2Z" fill="none" stroke="#f2e43a" stroke-width="0.9" stroke-linejoin="round"/></g></g>
<line x1="51.00" y1="242.60" x2="51.00" y2="240.20" stroke="#8c8c8c" stroke-width="1.0"/>
<line x1="51.00" y1="159.00" x2="51.00" y2="161.40" stroke="#8c8c8c" stroke-width="1.0"/>
<line x1="93.40" y1="242.60" x2="93.40" y2="240.20" stroke="#8c8c8c" stroke-width="1.0"/>
<line x1="93.40" y1="159.00" x2="93.40" y2="161.40" stroke="#8c8c8c" stroke-width="1.0"/>
<line x1="135.80" y1="242.60" x2="135.80" y2="240.20" stroke="#8c8c8c" stroke-width="1.0"/>
<line x1="135.80" y1="159.00" x2="135.80" y2="161.40" stroke="#8c8c8c" stroke-width="1.0"/>
<line x1="178.20" y1="242.60" x2="178.20" y2="240.20" stroke="#8c8c8c" stroke-width="1.0"/>
<line x1="178.20" y1="159.00" x2="178.20" y2="161.40" stroke="#8c8c8c" stroke-width="1.0"/>
<line x1="220.60" y1="242.60" x2="220.60" y2="240.20" stroke="#8c8c8c" stroke-width="1.0"/>
<line x1="220.60" y1="159.00" x2="220.60" y2="161.40" stroke="#8c8c8c" stroke-width="1.0"/>
<line x1="263.00" y1="242.60" x2="263.00" y2="240.20" stroke="#8c8c8c" stroke-width="1.0"/>
<line x1="263.00" y1="159.00" x2="263.00" y2="161.40" stroke="#8c8c8c" stroke-width="1.0"/>
<line x1="29.50" y1="239.40" x2="31.90" y2="239.40" stroke="#8c8c8c" stroke-width="1.0"/>
<line x1="274.90" y1="239.40" x2="272.50" y2="239.40" stroke="#8c8c8c" stroke-width="1.0"/>
<line x1="29.50" y1="221.50" x2="31.90" y2="221.50" stroke="#8c8c8c" stroke-width="1.0"/>
<line x1="274.90" y1="221.50" x2="272.50" y2="221.50" stroke="#8c8c8c" stroke-width="1.0"/>
<line x1="29.50" y1="203.60" x2="31.90" y2="203.60" stroke="#8c8c8c" stroke-width="1.0"/>
<line x1="274.90" y1="203.60" x2="272.50" y2="203.60" stroke="#8c8c8c" stroke-width="1.0"/>
<line x1="29.50" y1="185.70" x2="31.90" y2="185.70" stroke="#8c8c8c" stroke-width="1.0"/>
<line x1="274.90" y1="185.70" x2="272.50" y2="185.70" stroke="#8c8c8c" stroke-width="1.0"/>
<line x1="29.50" y1="167.80" x2="31.90" y2="167.80" stroke="#8c8c8c" stroke-width="1.0"/>
<line x1="274.90" y1="167.80" x2="272.50" y2="167.80" stroke="#8c8c8c" stroke-width="1.0"/>
<rect x="29.50" y="159.00" width="245.40" height="83.60" fill="none" stroke="#8c8c8c" stroke-width="1.0"/>
<text x="51.00" y="254.70" font-size="10" font-weight="normal" text-anchor="middle" fill="#262626" stroke="#262626" stroke-width="0.2" >100</text>
<text x="93.40" y="254.70" font-size="10" font-weight="normal" text-anchor="middle" fill="#262626" stroke="#262626" stroke-width="0.2" >150</text>
<text x="135.80" y="254.70" font-size="10" font-weight="normal" text-anchor="middle" fill="#262626" stroke="#262626" stroke-width="0.2" >200</text>
<text x="178.20" y="254.70" font-size="10" font-weight="normal" text-anchor="middle" fill="#262626" stroke="#262626" stroke-width="0.2" >250</text>
<text x="220.60" y="254.70" font-size="10" font-weight="normal" text-anchor="middle" fill="#262626" stroke="#262626" stroke-width="0.2" >300</text>
<text x="263.00" y="254.70" font-size="10" font-weight="normal" text-anchor="middle" fill="#262626" stroke="#262626" stroke-width="0.2" >350</text>
<text x="26.30" y="242.70" font-size="10" font-weight="normal" text-anchor="end" fill="#262626" stroke="#262626" stroke-width="0.2" >57</text>
<text x="26.30" y="224.80" font-size="10" font-weight="normal" text-anchor="end" fill="#262626" stroke="#262626" stroke-width="0.2" >58</text>
<text x="26.30" y="206.90" font-size="10" font-weight="normal" text-anchor="end" fill="#262626" stroke="#262626" stroke-width="0.2" >59</text>
<text x="26.30" y="189.00" font-size="10" font-weight="normal" text-anchor="end" fill="#262626" stroke="#262626" stroke-width="0.2" >60</text>
<text x="26.30" y="171.10" font-size="10" font-weight="normal" text-anchor="end" fill="#262626" stroke="#262626" stroke-width="0.2" >61</text>
<text x="2.20" y="167.40" font-size="12" font-weight="normal" text-anchor="start" fill="#222" stroke="#222" stroke-width="0.2" >(b)</text>
<text x="152.20" y="155.30" font-size="10.25" font-weight="bold" text-anchor="middle" fill="#111" stroke="#111" stroke-width="0.2" >Echo time-Frequency analysis results at 3cm</text>
<text x="154.20" y="266.20" font-size="10.15" font-weight="bold" text-anchor="middle" fill="#222" stroke="#222" stroke-width="0.2" >Frequency(KHz)</text>
<text x="10.40" y="202.20" font-size="10.2" font-weight="bold" text-anchor="middle" fill="#222" stroke="#222" stroke-width="0.2" transform="rotate(-90 10.40 202.20)" dy="0.33em">Time(μS)</text>
<linearGradient id="cbgb" x1="0" x2="1" y1="0" y2="0"><stop offset="0.000" stop-color="#352a87"/><stop offset="0.031" stop-color="#36369f"/><stop offset="0.062" stop-color="#3243b9"/><stop offset="0.094" stop-color="#2152d2"/><stop offset="0.125" stop-color="#0462e0"/><stop offset="0.156" stop-color="#046ce0"/><stop offset="0.188" stop-color="#0c74dd"/><stop offset="0.219" stop-color="#127cd8"/><stop offset="0.250" stop-color="#1484d4"/><stop offset="0.281" stop-color="#118dd2"/><stop offset="0.312" stop-color="#0a97d1"/><stop offset="0.344" stop-color="#069fce"/><stop offset="0.375" stop-color="#06a6c7"/><stop offset="0.406" stop-color="#09abbf"/><stop offset="0.438" stop-color="#13b0b6"/><stop offset="0.469" stop-color="#21b4ac"/><stop offset="0.500" stop-color="#33b8a1"/><stop offset="0.531" stop-color="#47bb95"/><stop offset="0.562" stop-color="#5ebe89"/><stop offset="0.594" stop-color="#75bf7e"/><stop offset="0.625" stop-color="#8bbf75"/><stop offset="0.656" stop-color="#9fbe6d"/><stop offset="0.688" stop-color="#b1bd66"/><stop offset="0.719" stop-color="#c2bc5f"/><stop offset="0.750" stop-color="#d3bb58"/><stop offset="0.781" stop-color="#e3b951"/><stop offset="0.812" stop-color="#f2b949"/><stop offset="0.844" stop-color="#febf3c"/><stop offset="0.875" stop-color="#fec932"/><stop offset="0.906" stop-color="#f9d329"/><stop offset="0.938" stop-color="#f5de21"/><stop offset="0.969" stop-color="#f5eb18"/><stop offset="1.000" stop-color="#f9fb0e"/></linearGradient>
<rect x="29.50" y="270.30" width="246.10" height="4.50" fill="url(#cbgb)" stroke="#555" stroke-width="0.4"/>
<text x="29.50" y="286.60" font-size="10" font-weight="normal" text-anchor="middle" fill="#262626" stroke="#262626" stroke-width="0.2" >0.1</text>
<line x1="70.52" y1="270.30" x2="70.52" y2="271.30" stroke="#333" stroke-width="0.6"/>
<line x1="70.52" y1="274.80" x2="70.52" y2="273.80" stroke="#333" stroke-width="0.6"/>
<text x="70.52" y="286.60" font-size="10" font-weight="normal" text-anchor="middle" fill="#262626" stroke="#262626" stroke-width="0.2" >0.2</text>
<line x1="111.53" y1="270.30" x2="111.53" y2="271.30" stroke="#333" stroke-width="0.6"/>
<line x1="111.53" y1="274.80" x2="111.53" y2="273.80" stroke="#333" stroke-width="0.6"/>
<text x="111.53" y="286.60" font-size="10" font-weight="normal" text-anchor="middle" fill="#262626" stroke="#262626" stroke-width="0.2" >0.3</text>
<line x1="152.55" y1="270.30" x2="152.55" y2="271.30" stroke="#333" stroke-width="0.6"/>
<line x1="152.55" y1="274.80" x2="152.55" y2="273.80" stroke="#333" stroke-width="0.6"/>
<text x="152.55" y="286.60" font-size="10" font-weight="normal" text-anchor="middle" fill="#262626" stroke="#262626" stroke-width="0.2" >0.4</text>
<line x1="193.57" y1="270.30" x2="193.57" y2="271.30" stroke="#333" stroke-width="0.6"/>
<line x1="193.57" y1="274.80" x2="193.57" y2="273.80" stroke="#333" stroke-width="0.6"/>
<text x="193.57" y="286.60" font-size="10" font-weight="normal" text-anchor="middle" fill="#262626" stroke="#262626" stroke-width="0.2" >0.5</text>
<line x1="234.58" y1="270.30" x2="234.58" y2="271.30" stroke="#333" stroke-width="0.6"/>
<line x1="234.58" y1="274.80" x2="234.58" y2="273.80" stroke="#333" stroke-width="0.6"/>
<text x="234.58" y="286.60" font-size="10" font-weight="normal" text-anchor="middle" fill="#262626" stroke="#262626" stroke-width="0.2" >0.6</text>
<text x="275.60" y="286.60" font-size="10" font-weight="normal" text-anchor="middle" fill="#262626" stroke="#262626" stroke-width="0.2" >0.7</text>
<g clip-path="url(#clipc)"><g filter="url(#soft)"><path d="M93.8 311.5 88.4 311.7 81.2 311.6 75.2 311.3 73.2 311.1 72.3 310.9 72.4 310.7 72.8 310.6 75.6 310.4 80.4 310.4 86.2 310.5 91.2 310.7 93.9 310.9 95.0 311.1 95.1 311.3ZM206.0 313.5 196.6 313.5 186.4 313.3 177.8 312.9 176.0 312.7 175.7 312.5 178.2 312.3 184.8 312.1 193.8 312.1 202.4 312.3 211.4 312.7 214.0 312.9 215.0 313.1 213.5 313.3ZM223.4 317.5 211.0 317.6 190.0 317.5 150.0 316.9 108.8 316.2 90.0 315.7 78.0 315.3 70.4 314.9 68.5 314.7 67.7 314.5 67.9 314.3 70.6 314.1 82.0 313.9 97.8 314.1 130.5 314.7 181.0 315.7 204.9 316.3 216.4 316.7 223.8 317.1 225.2 317.3ZM182.2 322.1 150.0 322.2 99.8 321.1 82.0 320.6 70.6 320.1 67.7 319.9 65.6 319.6 64.4 319.3 64.1 319.1 64.0 318.9 64.4 318.7 65.6 318.4 69.6 318.1 74.6 318.1 87.2 318.1 107.6 318.4 150.0 319.2 174.8 319.4 201.4 319.9 208.6 320.1 215.5 320.5 217.6 320.7 218.6 320.9 218.3 321.1 216.7 321.3 210.8 321.6 203.4 321.9ZM152.0 353.1 150.0 353.2 125.4 353.2 84.8 353.2 76.4 353.0 70.0 352.8 63.0 352.4 58.4 351.9 56.7 351.5 56.4 351.3 56.2 351.1 56.2 350.9 56.4 350.7 57.0 350.4 58.8 350.0 63.2 349.6 69.2 349.3 80.2 348.9 77.2 348.8 66.4 348.2 58.8 347.5 56.2 347.1 55.3 346.7 55.1 346.5 55.1 346.3 55.7 345.9 57.3 345.5 65.4 344.8 75.4 344.3 71.8 344.2 67.8 344.0 55.8 342.9 54.0 342.6 53.0 342.3 52.5 341.9 52.5 341.7 52.7 341.5 53.6 341.1 55.0 340.8 64.6 340.0 70.2 339.6 78.0 339.5 71.2 339.4 64.8 338.8 53.4 337.6 52.0 337.2 51.5 336.9 51.4 336.7 51.5 336.5 51.7 336.3 52.2 336.1 53.4 335.8 55.2 335.6 68.8 334.6 79.0 334.5 70.0 334.0 57.2 332.8 54.4 332.5 52.9 332.1 52.6 331.9 52.5 331.7 52.6 331.5 53.0 331.3 54.8 330.8 67.4 330.2 76.8 329.9 92.0 330.0 93.0 330.1 100.7 330.1 94.8 330.0 80.0 329.4 71.6 329.0 61.0 328.2 58.1 327.9 56.6 327.5 56.3 327.3 56.2 327.1 56.3 326.9 56.8 326.7 57.8 326.5 59.6 326.3 62.4 326.1 73.2 325.9 81.2 325.8 109.6 326.0 113.4 326.2 121.0 326.1 91.8 325.4 78.6 324.8 66.6 324.2 62.6 323.8 61.2 323.5 60.6 323.3 60.3 323.1 60.3 322.9 60.7 322.7 61.4 322.5 63.2 322.3 68.0 322.1 85.4 322.0 96.8 322.1 111.0 322.4 178.2 323.8 198.4 324.5 205.2 324.9 208.9 325.3 209.5 325.5 209.1 325.7 207.5 325.9 202.2 326.2 195.0 326.4 172.0 326.7 150.0 326.7 142.2 326.6 140.7 326.7 147.8 326.8 148.6 326.9 176.8 327.8 222.3 329.7 238.4 330.5 239.8 330.7 239.8 330.9 238.4 331.1 230.0 331.5 222.6 331.6 180.2 331.4 155.0 331.2 149.2 331.0 140.4 331.1 147.2 331.1 150.0 331.3 158.2 331.4 162.8 331.5 172.0 331.6 238.9 333.9 245.6 334.3 246.4 334.5 245.6 334.7 243.1 334.9 230.0 335.4 164.2 336.1 180.8 336.2 235.2 337.9 243.8 338.3 245.3 338.5 245.3 338.7 244.0 338.9 236.0 339.3 189.5 340.3 186.5 340.5 238.4 341.7 246.3 342.1 247.3 342.3 246.3 342.5 238.4 342.9 187.2 344.3 191.6 344.5 217.0 344.7 230.0 344.8 235.6 344.9 247.0 345.3 249.0 345.5 249.0 345.7 247.0 345.9 242.7 346.1 230.0 346.4 220.6 346.8 190.2 348.1 178.0 348.5 177.4 348.7 175.7 348.7 202.0 349.0 227.4 349.2 231.2 349.3 233.3 349.5 233.3 349.7 231.2 349.9 223.9 350.3 203.0 351.1 172.8 352.5 159.4 353.0ZM129.8 326.3 123.0 326.2 121.6 326.2 121.3 326.3ZM138.7 326.5 132.8 326.4 131.2 326.5ZM109.2 330.3 102.4 330.3ZM118.6 330.5 111.9 330.5ZM128.8 330.7 121.5 330.7ZM139.2 330.9 131.0 330.9ZM87.5 334.7 82.5 334.7ZM179.6 344.5 172.8 344.5ZM163.5 344.7 153.2 344.7ZM151.4 357.9 146.0 358.0 102.8 358.0 92.8 358.0 77.4 357.7 68.8 357.4 59.8 356.7 57.2 356.3 56.4 355.9 56.2 355.7 56.2 355.5 56.6 355.2 57.3 354.9 58.6 354.6 60.2 354.4 70.0 353.8 79.8 353.5 101.6 353.4 152.0 353.4 164.8 353.2 192.4 353.1 214.8 352.9 222.0 353.0 224.8 353.1 224.6 353.3 218.0 353.9 190.6 355.5 164.6 357.2ZM110.8 366.5 88.2 366.6 77.2 366.6 61.2 366.2 58.6 366.0 56.8 365.8 55.6 365.5 55.0 365.3 54.8 365.1 54.7 364.9 54.8 364.7 55.0 364.5 56.0 364.1 57.2 363.9 60.8 363.6 70.8 363.2 82.8 362.9 114.7 362.7 113.1 362.5 91.4 362.4 77.8 362.2 67.8 361.8 60.4 361.4 58.4 361.2 57.0 360.8 56.4 360.5 56.2 360.3 56.2 360.1 56.4 359.9 57.2 359.5 58.6 359.2 63.6 358.8 76.4 358.3 93.6 358.2 131.0 358.2 150.0 358.5 202.8 356.9 211.6 356.7 216.2 356.8 217.8 356.9 217.3 357.1 214.2 357.5 207.7 358.1 150.0 362.3 134.7 362.5 139.8 362.7 150.0 362.8 213.4 360.0 226.2 359.7 229.8 359.7 231.5 359.9 231.5 360.1 226.6 360.7 214.4 361.8 150.0 366.0 132.2 366.3ZM86.8 371.5 63.2 371.6 59.6 371.5 56.8 371.3 55.2 371.1 54.0 370.7 53.8 370.5 53.8 370.3 54.2 370.0 55.2 369.7 56.8 369.4 61.6 369.0 76.6 368.4 92.0 368.0 150.0 367.0 212.8 363.8 226.6 363.4 230.0 363.5 231.3 363.7 230.5 363.9 225.7 364.5 212.0 365.8 150.0 370.4ZM85.0 375.7 66.8 375.8 61.4 375.7 57.1 375.5 55.0 375.3 54.5 375.1 54.5 374.9 54.6 374.9 56.5 374.5 61.7 374.1 70.2 373.8 82.2 373.5 150.0 372.3 183.0 370.0 201.2 368.9 215.0 368.3 219.4 368.2 221.5 368.3 221.1 368.5 220.0 368.7 217.2 369.1 201.8 370.7 182.8 372.4 150.0 374.9ZM150.0 378.5 145.6 378.5 142.7 378.3 142.6 378.1 144.0 377.9 150.0 377.5 170.4 375.7 186.7 374.5 200.4 373.7 205.6 373.5 206.2 373.6 206.5 373.7 203.9 374.1 198.5 374.7 183.3 376.1 165.5 377.5ZM69.4 380.9 66.8 381.1 64.4 381.0 62.5 380.7 62.1 380.5 62.0 380.3 62.1 380.1 62.6 379.9 64.8 379.4 67.4 379.3 70.2 379.4 72.5 379.7 73.0 379.9 73.1 380.1 72.7 380.3 72.0 380.5Z" fill="none" stroke="#6e66b8" stroke-width="0.75" stroke-linejoin="round"/><path d="M182.2 321.3 167.2 321.5 150.0 321.5 130.1 321.1 108.8 320.7 95.0 320.3 81.2 319.7 76.9 319.3 77.5 319.1 82.4 318.9 97.6 318.9 110.3 319.1 150.0 319.9 177.6 320.2 187.6 320.5 191.8 320.7 192.8 320.9 190.1 321.1ZM168.8 326.1 153.2 326.2 146.0 326.1 98.4 325.1 89.2 324.7 80.7 324.3 72.2 323.7 69.6 323.3 69.7 323.1 71.6 322.9 76.4 322.7 85.2 322.6 94.8 322.6 138.8 323.5 171.4 324.3 181.2 324.7 186.5 325.1 187.4 325.3 186.8 325.5 182.2 325.8ZM201.2 330.7 181.8 330.8 144.4 330.7 112.6 330.1 89.4 329.4 81.0 329.0 68.9 328.1 65.5 327.7 64.4 327.5 64.0 327.3 64.3 327.1 65.6 326.9 69.6 326.6 78.0 326.3 86.6 326.2 114.8 326.4 140.2 327.0 179.6 328.5 199.5 329.5 205.5 329.9 207.6 330.1 208.6 330.3 207.5 330.5ZM175.8 335.7 148.2 335.7 105.4 334.9 81.4 334.3 78.0 334.1 67.5 333.1 62.8 332.5 60.8 332.1 60.4 331.9 60.4 331.7 60.9 331.5 63.8 331.1 70.8 330.6 79.6 330.2 105.1 330.5 174.2 332.0 211.9 333.7 218.7 334.1 220.4 334.3 220.3 334.5 219.4 334.6 213.4 334.8ZM158.6 344.5 139.2 344.6 96.6 344.4 72.0 344.0 64.3 343.1 61.5 342.7 59.4 342.3 58.7 342.1 58.4 341.9 58.5 341.7 59.2 341.4 60.8 341.1 65.6 340.5 72.0 339.9 96.6 339.8 99.0 339.8 99.7 339.7 87.4 339.5 72.0 339.1 61.7 337.7 58.9 337.1 58.5 336.9 58.4 336.7 58.7 336.5 59.4 336.3 61.8 335.9 72.0 334.9 85.4 334.9 120.0 335.5 146.2 336.0 180.8 336.5 213.9 337.9 220.9 338.3 222.3 338.5 221.9 338.7 215.0 339.1 180.8 340.2 161.2 340.3 165.1 340.5 183.2 340.7 213.0 341.7 222.0 342.1 223.4 342.3 222.4 342.5 215.1 342.9 183.2 344.1ZM114.3 339.9 108.8 339.8 100.5 339.9 108.8 340.0ZM130.3 340.1 121.9 340.1 126.4 340.2ZM147.9 340.3 140.3 340.3ZM150.8 352.9 116.8 353.0 89.4 352.9 77.0 352.5 68.7 352.1 62.5 351.5 61.4 351.2 61.1 351.1 61.1 350.9 62.2 350.6 64.0 350.3 71.2 349.7 78.2 349.4 89.4 349.1 122.7 348.9 97.4 348.8 77.8 348.5 70.6 348.0 64.8 347.4 61.4 346.9 60.7 346.7 60.3 346.5 60.4 346.3 61.4 346.0 65.0 345.5 73.6 344.8 77.8 344.6 80.0 344.6 112.4 344.7 150.0 345.0 182.2 344.7 209.0 345.2 218.4 345.5 220.5 345.7 220.1 345.9 215.6 346.3 183.2 348.1 160.6 348.8 153.9 348.9 156.6 349.0 167.8 349.0 189.8 349.4 198.7 349.7 202.1 349.9 203.0 350.1 201.9 350.3 197.3 350.7 186.6 351.4 165.0 352.5ZM146.6 357.7 106.6 357.7 92.8 357.6 87.1 357.5 77.2 357.2 69.6 356.8 63.8 356.3 62.0 356.0 61.1 355.7 61.1 355.5 61.4 355.4 62.5 355.1 66.0 354.7 70.2 354.4 78.4 354.0 92.8 353.7 126.8 353.6 150.0 353.8 164.2 353.7 190.4 353.9 194.8 354.1 194.7 354.3 191.2 354.7 161.8 356.9 150.0 357.6ZM139.6 362.1 128.2 362.2 116.4 362.2 82.6 361.8 74.4 361.5 66.9 361.1 62.7 360.7 61.6 360.5 61.1 360.3 61.1 360.1 62.2 359.8 66.8 359.4 74.6 359.0 83.8 358.7 104.8 358.5 124.0 358.4 134.4 358.6 150.0 358.9 174.7 358.3 188.8 358.1 191.0 358.3 190.2 358.5 188.7 358.7 173.1 360.1 150.0 361.9ZM119.0 365.9 86.6 366.0 77.8 365.9 70.4 365.7 64.0 365.3 62.6 365.1 62.0 364.9 62.3 364.7 63.0 364.5 65.0 364.3 71.1 363.9 82.6 363.5 94.6 363.4 131.0 363.2 150.0 363.3 199.0 361.3 205.6 361.2 206.8 361.2 207.5 361.3 204.0 361.7 196.4 362.3 150.0 365.5 135.0 365.8ZM94.0 370.7 76.6 370.8 70.7 370.7 66.0 370.5 64.1 370.3 64.3 370.1 65.7 369.9 71.4 369.5 80.6 369.1 94.1 368.7 150.0 367.7 160.4 367.1 194.7 365.5 200.2 365.3 204.0 365.3 203.2 365.5 201.5 365.7 194.9 366.3 161.7 368.9 150.0 369.7ZM180.8 371.3 180.3 371.3ZM134.4 374.1 127.4 374.1 124.7 373.9 136.9 373.5 150.0 373.3 176.2 371.5 179.2 371.4 179.7 371.5 168.5 372.5 150.0 373.9Z" fill="none" stroke="#1560d8" stroke-width="0.9" stroke-linejoin="round"/><path d="M157.0 325.5 150.0 325.6 141.7 325.5 99.9 324.5 90.5 324.1 86.1 323.7 86.0 323.5 89.8 323.3 98.4 323.3 142.6 324.2 153.6 324.5 162.4 324.9 163.8 325.1 162.6 325.3ZM181.4 330.1 164.8 330.2 140.4 330.3 114.8 329.8 85.9 328.7 77.7 328.1 74.7 327.7 74.2 327.5 74.7 327.3 75.4 327.2 78.6 327.0 89.0 326.7 114.8 326.8 138.1 327.3 153.7 327.9 181.3 329.3 185.1 329.7 185.0 329.9ZM175.2 335.3 164.6 335.4 150.0 335.5 126.0 335.1 90.9 334.3 79.4 333.8 70.2 332.7 68.1 332.3 67.5 332.1 67.4 331.9 67.8 331.7 68.4 331.6 70.2 331.3 79.4 330.6 88.4 330.5 99.0 330.6 124.0 331.1 165.3 332.1 174.2 332.4 196.1 333.7 198.5 333.9 199.7 334.1 199.3 334.3 196.8 334.5ZM157.6 340.1 145.9 340.1 111.4 339.7 91.8 339.4 81.3 339.1 72.0 338.6 65.4 337.5 64.1 337.1 63.9 336.9 63.9 336.7 64.2 336.6 65.1 336.3 67.4 335.9 72.0 335.3 84.0 335.1 100.4 335.3 123.4 335.7 164.3 336.5 180.8 336.9 201.5 338.1 203.5 338.3 204.0 338.5 202.9 338.7 196.1 339.1 180.8 339.8ZM157.8 344.3 150.0 344.4 111.4 344.3 91.9 344.1 81.7 343.9 72.0 343.5 65.3 342.5 63.9 342.1 63.7 341.9 63.8 341.7 65.0 341.3 67.4 340.9 72.0 340.3 84.2 340.1 109.4 340.1 164.6 340.7 183.0 341.1 204.0 342.1 205.4 342.3 205.1 342.5 199.9 342.9 183.2 343.8ZM152.8 348.7 143.8 348.8 120.1 348.7 97.4 348.5 85.2 348.3 77.8 348.1 73.8 347.7 68.5 347.1 66.6 346.7 66.3 346.5 66.4 346.3 67.1 346.1 71.9 345.5 77.8 345.0 84.8 344.9 96.6 344.8 111.8 344.9 150.0 345.2 182.2 345.1 201.5 345.7 203.9 345.9 204.3 346.1 203.4 346.3 196.2 346.9 182.2 347.8ZM127.2 352.7 107.6 352.7 89.4 352.5 79.0 352.1 72.6 351.7 70.0 351.4 68.6 351.1 68.6 350.9 69.0 350.8 70.6 350.5 76.8 350.0 88.9 349.5 112.8 349.3 150.0 349.4 162.8 349.3 183.3 349.9 186.9 350.1 188.0 350.3 187.6 350.5 183.7 350.9 162.8 352.2 150.0 352.6ZM143.4 357.3 118.4 357.4 92.8 357.2 75.2 356.5 70.2 356.1 69.0 355.9 68.4 355.7 68.4 355.5 68.8 355.4 70.4 355.1 75.1 354.7 79.2 354.5 92.8 354.1 125.0 354.0 144.7 354.1 150.0 354.2 168.0 354.3 174.4 354.5 176.5 354.7 176.5 354.9 174.0 355.3 165.4 356.1 151.0 357.1ZM136.6 361.7 128.4 361.8 120.4 361.8 96.0 361.5 78.6 361.0 73.2 360.7 71.5 360.5 70.8 360.3 70.9 360.1 72.0 359.9 79.0 359.5 88.0 359.2 106.8 358.9 129.0 358.9 150.0 359.5 162.0 359.2 167.4 359.2 169.1 359.3 169.3 359.5 168.1 359.7 162.4 360.3 150.6 361.3ZM115.8 365.3 89.8 365.3 82.8 365.2 78.9 364.9 78.7 364.7 80.1 364.5 86.0 364.2 109.2 363.9 131.2 363.8 150.0 364.0 156.4 363.9 156.8 363.9 157.1 364.1 151.4 364.7 147.4 364.9 134.0 365.2Z" fill="none" stroke="#2190e0" stroke-width="0.9" stroke-linejoin="round"/><path d="M153.6 329.5 140.2 329.6 120.6 329.3 108.1 328.9 98.9 328.5 92.2 328.1 90.3 327.9 90.4 327.7 93.2 327.6 103.4 327.4 116.2 327.5 132.8 327.8 143.4 328.1 154.1 328.7 157.9 329.1 157.6 329.3ZM158.2 335.1 150.0 335.1 133.0 334.9 95.5 334.1 86.7 333.7 81.3 333.3 79.4 333.1 76.9 332.7 75.3 332.3 75.0 332.1 75.3 331.9 76.1 331.7 80.2 331.2 86.2 331.0 94.0 330.9 129.8 331.5 158.8 332.3 168.6 332.7 174.2 333.0 179.2 333.5 180.8 333.7 181.6 333.9 181.3 334.1 179.9 334.3 174.2 334.7 167.8 334.9ZM165.4 339.7 146.4 339.9 116.2 339.6 90.6 339.1 81.2 338.7 75.2 338.3 72.0 337.9 70.9 337.7 69.5 337.3 69.1 337.1 69.0 336.9 69.2 336.7 70.5 336.3 72.0 336.0 73.8 335.8 80.4 335.5 88.6 335.4 123.2 335.9 165.2 336.9 180.4 337.5 185.1 337.9 187.9 338.3 187.8 338.5 186.6 338.7 180.8 339.2 173.1 339.5ZM153.2 344.1 110.6 344.1 88.0 343.7 80.4 343.5 73.8 343.0 72.0 342.9 70.2 342.5 69.0 342.1 68.9 341.9 69.1 341.7 69.6 341.5 71.4 341.1 74.8 340.8 81.4 340.5 92.0 340.3 111.8 340.3 170.6 341.2 180.5 341.5 186.5 341.9 189.8 342.3 189.8 342.5 188.7 342.7 183.2 343.2 177.1 343.5 164.4 343.9ZM150.0 348.5 123.6 348.5 102.4 348.3 91.8 348.1 85.2 347.9 78.7 347.5 74.2 346.9 73.5 346.7 73.3 346.5 73.6 346.3 75.8 345.9 80.0 345.5 86.4 345.3 96.0 345.1 123.0 345.2 150.0 345.5 169.6 345.5 181.8 345.7 187.0 345.9 189.2 346.1 190.0 346.3 189.4 346.5 185.9 346.9 180.8 347.3 172.9 347.7ZM126.8 352.3 108.4 352.3 92.4 352.0 83.4 351.5 81.3 351.3 80.1 351.1 80.1 350.9 81.3 350.7 83.4 350.5 89.4 350.1 106.4 349.8 126.8 349.7 163.4 350.0 169.6 350.2 172.2 350.5 172.3 350.7 171.3 350.9 164.4 351.5 150.0 352.1ZM142.0 356.7 121.8 356.9 100.4 356.7 92.8 356.5 87.4 356.3 81.3 355.9 80.1 355.7 80.3 355.5 84.8 355.1 96.2 354.7 116.6 354.5 137.0 354.6 157.5 355.1 159.9 355.3 159.7 355.5 158.3 355.7 151.9 356.3 148.8 356.5ZM133.6 361.1 125.0 361.2 111.2 361.1 97.2 360.7 93.5 360.5 92.0 360.3 93.0 360.1 96.6 359.9 103.3 359.7 117.3 359.5 129.6 359.5 140.5 359.9 143.6 360.1 145.2 360.3 145.1 360.5 143.3 360.7Z" fill="none" stroke="#1cb0d8" stroke-width="0.9" stroke-linejoin="round"/><path d="M159.6 334.5 150.0 334.7 136.6 334.6 103.2 333.9 96.6 333.7 89.9 333.3 86.1 332.9 84.3 332.5 84.0 332.3 84.2 332.1 85.0 331.9 86.8 331.7 90.4 331.5 96.0 331.4 121.4 331.7 138.0 332.1 155.4 332.7 164.7 333.3 166.3 333.5 167.0 333.7 167.0 333.9 166.0 334.1 163.8 334.3ZM156.2 339.5 148.8 339.6 127.6 339.4 93.2 338.9 84.9 338.5 80.0 338.1 77.1 337.7 76.2 337.5 75.6 337.3 75.3 337.1 75.4 336.9 75.7 336.7 76.5 336.5 79.8 336.1 84.8 335.9 91.6 335.8 120.6 336.1 156.0 337.0 168.7 337.5 173.2 337.9 174.4 338.1 174.8 338.3 174.5 338.5 173.5 338.7 169.6 339.0 163.9 339.3ZM156.6 343.7 147.2 343.8 117.0 343.9 98.0 343.7 87.8 343.4 81.2 343.0 77.0 342.5 76.1 342.3 75.7 342.1 75.6 341.9 75.9 341.7 76.6 341.5 77.9 341.3 82.0 341.0 88.5 340.7 97.6 340.6 113.2 340.6 158.8 341.3 166.0 341.5 173.0 341.8 175.8 342.1 176.8 342.3 177.0 342.5 176.3 342.7 174.7 342.9 172.3 343.1 164.0 343.5ZM150.8 348.1 131.0 348.2 100.1 347.9 93.2 347.7 86.5 347.3 83.3 346.9 82.7 346.7 82.6 346.5 83.1 346.3 84.3 346.1 88.6 345.8 94.8 345.6 102.0 345.5 130.8 345.5 150.0 345.9 166.8 346.0 173.0 346.3 174.2 346.5 174.1 346.7 172.9 346.9 164.9 347.5ZM122.2 351.7 110.8 351.6 102.4 351.3 100.7 351.1 100.7 350.9 102.4 350.7 106.3 350.5 116.4 350.3 127.4 350.3 137.9 350.5 143.5 350.7 145.9 350.9 145.9 351.1 145.6 351.1 143.5 351.3 139.4 351.5Z" fill="none" stroke="#30bcd0" stroke-width="0.9" stroke-linejoin="round"/><path d="M147.4 333.9 141.4 334.1 134.8 334.1 116.7 333.7 100.1 333.1 97.2 332.9 95.8 332.7 95.3 332.5 96.0 332.3 97.8 332.2 103.6 332.1 117.8 332.2 132.8 332.5 143.2 332.9 148.5 333.3 149.8 333.5 149.8 333.7ZM153.6 339.1 146.0 339.2 124.0 339.1 110.8 338.9 94.8 338.5 90.0 338.3 85.1 337.9 82.7 337.5 82.1 337.3 82.0 337.1 82.2 336.9 83.0 336.7 84.6 336.5 88.0 336.3 93.0 336.2 113.7 336.3 133.5 336.7 153.2 337.3 157.8 337.5 162.2 337.9 163.3 338.1 163.6 338.3 163.1 338.5 158.6 338.9ZM139.0 343.5 113.6 343.6 103.6 343.5 95.4 343.2 88.9 342.9 84.9 342.5 83.8 342.3 83.3 342.1 83.4 341.9 84.2 341.7 85.6 341.5 88.6 341.2 95.6 341.0 105.4 340.8 126.4 341.1 154.2 341.7 162.7 342.1 164.3 342.3 164.6 342.5 163.9 342.7 158.8 343.1 153.5 343.3ZM145.2 347.7 130.2 347.8 105.3 347.5 96.6 347.1 94.4 346.9 93.6 346.7 93.9 346.5 95.6 346.3 98.2 346.1 103.4 346.0 122.2 345.9 137.2 346.0 146.9 346.3 155.2 346.7 156.0 346.9 155.3 347.1 153.6 347.3 150.0 347.6Z" fill="none" stroke="#70c8b0" stroke-width="0.9" stroke-linejoin="round"/><path d="M137.6 338.7 122.2 338.7 105.0 338.3 94.4 337.9 92.3 337.7 91.0 337.5 90.4 337.3 90.7 337.1 92.8 336.9 101.2 336.7 116.2 336.8 131.7 337.1 146.0 337.7 148.7 337.9 150.0 338.1 150.0 338.3 148.0 338.5ZM126.2 343.1 112.8 343.2 105.3 343.1 96.6 342.7 94.3 342.5 93.0 342.3 92.5 342.1 92.8 341.9 94.1 341.7 96.8 341.5 106.6 341.2 115.7 341.3 132.0 341.7 142.6 342.1 145.1 342.3 145.8 342.5 144.3 342.7 139.2 342.9Z" fill="none" stroke="#d8dc70" stroke-width="0.9" stroke-linejoin="round"/><path d="M111.8 342.5 107.8 342.4 106.6 342.3 106.4 342.1 109.6 341.9 115.3 342.1 116.0 342.3Z" fill="none" stroke="#f5e638" stroke-width="0.9" stroke-linejoin="round"/></g></g>
<line x1="47.00" y1="387.00" x2="47.00" y2="384.60" stroke="#8c8c8c" stroke-width="1.0"/>
<line x1="47.00" y1="303.30" x2="47.00" y2="305.70" stroke="#8c8c8c" stroke-width="1.0"/>
<line x1="89.50" y1="387.00" x2="89.50" y2="384.60" stroke="#8c8c8c" stroke-width="1.0"/>
<line x1="89.50" y1="303.30" x2="89.50" y2="305.70" stroke="#8c8c8c" stroke-width="1.0"/>
<line x1="132.00" y1="387.00" x2="132.00" y2="384.60" stroke="#8c8c8c" stroke-width="1.0"/>
<line x1="132.00" y1="303.30" x2="132.00" y2="305.70" stroke="#8c8c8c" stroke-width="1.0"/>
<line x1="174.50" y1="387.00" x2="174.50" y2="384.60" stroke="#8c8c8c" stroke-width="1.0"/>
<line x1="174.50" y1="303.30" x2="174.50" y2="305.70" stroke="#8c8c8c" stroke-width="1.0"/>
<line x1="217.00" y1="387.00" x2="217.00" y2="384.60" stroke="#8c8c8c" stroke-width="1.0"/>
<line x1="217.00" y1="303.30" x2="217.00" y2="305.70" stroke="#8c8c8c" stroke-width="1.0"/>
<line x1="259.50" y1="387.00" x2="259.50" y2="384.60" stroke="#8c8c8c" stroke-width="1.0"/>
<line x1="259.50" y1="303.30" x2="259.50" y2="305.70" stroke="#8c8c8c" stroke-width="1.0"/>
<line x1="29.20" y1="370.00" x2="31.60" y2="370.00" stroke="#8c8c8c" stroke-width="1.0"/>
<line x1="274.90" y1="370.00" x2="272.50" y2="370.00" stroke="#8c8c8c" stroke-width="1.0"/>
<line x1="29.20" y1="352.20" x2="31.60" y2="352.20" stroke="#8c8c8c" stroke-width="1.0"/>
<line x1="274.90" y1="352.20" x2="272.50" y2="352.20" stroke="#8c8c8c" stroke-width="1.0"/>
<line x1="29.20" y1="334.40" x2="31.60" y2="334.40" stroke="#8c8c8c" stroke-width="1.0"/>
<line x1="274.90" y1="334.40" x2="272.50" y2="334.40" stroke="#8c8c8c" stroke-width="1.0"/>
<line x1="29.20" y1="316.60" x2="31.60" y2="316.60" stroke="#8c8c8c" stroke-width="1.0"/>
<line x1="274.90" y1="316.60" x2="272.50" y2="316.60" stroke="#8c8c8c" stroke-width="1.0"/>
<rect x="29.20" y="303.30" width="245.70" height="83.70" fill="none" stroke="#8c8c8c" stroke-width="1.0"/>
<text x="47.00" y="399.10" font-size="10" font-weight="normal" text-anchor="middle" fill="#262626" stroke="#262626" stroke-width="0.2" >100</text>
<text x="89.50" y="399.10" font-size="10" font-weight="normal" text-anchor="middle" fill="#262626" stroke="#262626" stroke-width="0.2" >150</text>
<text x="132.00" y="399.10" font-size="10" font-weight="normal" text-anchor="middle" fill="#262626" stroke="#262626" stroke-width="0.2" >200</text>
<text x="174.50" y="399.10" font-size="10" font-weight="normal" text-anchor="middle" fill="#262626" stroke="#262626" stroke-width="0.2" >250</text>
<text x="217.00" y="399.10" font-size="10" font-weight="normal" text-anchor="middle" fill="#262626" stroke="#262626" stroke-width="0.2" >300</text>
<text x="259.50" y="399.10" font-size="10" font-weight="normal" text-anchor="middle" fill="#262626" stroke="#262626" stroke-width="0.2" >350</text>
<text x="26.00" y="373.30" font-size="10" font-weight="normal" text-anchor="end" fill="#262626" stroke="#262626" stroke-width="0.2" >27</text>
<text x="26.00" y="355.50" font-size="10" font-weight="normal" text-anchor="end" fill="#262626" stroke="#262626" stroke-width="0.2" >28</text>
<text x="26.00" y="337.70" font-size="10" font-weight="normal" text-anchor="end" fill="#262626" stroke="#262626" stroke-width="0.2" >29</text>
<text x="26.00" y="319.90" font-size="10" font-weight="normal" text-anchor="end" fill="#262626" stroke="#262626" stroke-width="0.2" >30</text>
<text x="2.20" y="308.40" font-size="12" font-weight="normal" text-anchor="start" fill="#222" stroke="#222" stroke-width="0.2" >(c)</text>
<text x="152.05" y="298.10" font-size="10.25" font-weight="bold" text-anchor="middle" fill="#111" stroke="#111" stroke-width="0.2" >Echo time-Frequency analysis results at 1cm</text>
<text x="154.05" y="410.40" font-size="10.15" font-weight="bold" text-anchor="middle" fill="#222" stroke="#222" stroke-width="0.2" >Frequency(KHz)</text>
<g clip-path="url(#ylclipc)">
<text x="10.20" y="344.00" font-size="10.2" font-weight="bold" text-anchor="middle" fill="#222" stroke="#222" stroke-width="0.2" transform="rotate(-90 10.20 344.00)" dy="0.33em">Time(μS)</text>
</g>
<linearGradient id="cbgc" x1="0" x2="1" y1="0" y2="0"><stop offset="0.000" stop-color="#352a87"/><stop offset="0.031" stop-color="#36369f"/><stop offset="0.062" stop-color="#3243b9"/><stop offset="0.094" stop-color="#2152d2"/><stop offset="0.125" stop-color="#0462e0"/><stop offset="0.156" stop-color="#046ce0"/><stop offset="0.188" stop-color="#0c74dd"/><stop offset="0.219" stop-color="#127cd8"/><stop offset="0.250" stop-color="#1484d4"/><stop offset="0.281" stop-color="#118dd2"/><stop offset="0.312" stop-color="#0a97d1"/><stop offset="0.344" stop-color="#069fce"/><stop offset="0.375" stop-color="#06a6c7"/><stop offset="0.406" stop-color="#09abbf"/><stop offset="0.438" stop-color="#13b0b6"/><stop offset="0.469" stop-color="#21b4ac"/><stop offset="0.500" stop-color="#33b8a1"/><stop offset="0.531" stop-color="#47bb95"/><stop offset="0.562" stop-color="#5ebe89"/><stop offset="0.594" stop-color="#75bf7e"/><stop offset="0.625" stop-color="#8bbf75"/><stop offset="0.656" stop-color="#9fbe6d"/><stop offset="0.688" stop-color="#b1bd66"/><stop offset="0.719" stop-color="#c2bc5f"/><stop offset="0.750" stop-color="#d3bb58"/><stop offset="0.781" stop-color="#e3b951"/><stop offset="0.812" stop-color="#f2b949"/><stop offset="0.844" stop-color="#febf3c"/><stop offset="0.875" stop-color="#fec932"/><stop offset="0.906" stop-color="#f9d329"/><stop offset="0.938" stop-color="#f5de21"/><stop offset="0.969" stop-color="#f5eb18"/><stop offset="1.000" stop-color="#f9fb0e"/></linearGradient>
<rect x="29.20" y="414.70" width="246.40" height="4.20" fill="url(#cbgc)" stroke="#555" stroke-width="0.4"/>
<text x="29.20" y="431.00" font-size="10" font-weight="normal" text-anchor="middle" fill="#262626" stroke="#262626" stroke-width="0.2" >0.2</text>
<line x1="64.40" y1="414.70" x2="64.40" y2="415.70" stroke="#333" stroke-width="0.6"/>
<line x1="64.40" y1="418.90" x2="64.40" y2="417.90" stroke="#333" stroke-width="0.6"/>
<text x="64.40" y="431.00" font-size="10" font-weight="normal" text-anchor="middle" fill="#262626" stroke="#262626" stroke-width="0.2" >0.4</text>
<line x1="99.60" y1="414.70" x2="99.60" y2="415.70" stroke="#333" stroke-width="0.6"/>
<line x1="99.60" y1="418.90" x2="99.60" y2="417.90" stroke="#333" stroke-width="0.6"/>
<text x="99.60" y="431.00" font-size="10" font-weight="normal" text-anchor="middle" fill="#262626" stroke="#262626" stroke-width="0.2" >0.6</text>
<line x1="134.80" y1="414.70" x2="134.80" y2="415.70" stroke="#333" stroke-width="0.6"/>
<line x1="134.80" y1="418.90" x2="134.80" y2="417.90" stroke="#333" stroke-width="0.6"/>
<text x="134.80" y="431.00" font-size="10" font-weight="normal" text-anchor="middle" fill="#262626" stroke="#262626" stroke-width="0.2" >0.8</text>
<line x1="170.00" y1="414.70" x2="170.00" y2="415.70" stroke="#333" stroke-width="0.6"/>
<line x1="170.00" y1="418.90" x2="170.00" y2="417.90" stroke="#333" stroke-width="0.6"/>
<text x="170.00" y="431.00" font-size="10" font-weight="normal" text-anchor="middle" fill="#262626" stroke="#262626" stroke-width="0.2" >1</text>
<line x1="205.20" y1="414.70" x2="205.20" y2="415.70" stroke="#333" stroke-width="0.6"/>
<line x1="205.20" y1="418.90" x2="205.20" y2="417.90" stroke="#333" stroke-width="0.6"/>
<text x="205.20" y="431.00" font-size="10" font-weight="normal" text-anchor="middle" fill="#262626" stroke="#262626" stroke-width="0.2" >1.2</text>
<line x1="240.40" y1="414.70" x2="240.40" y2="415.70" stroke="#333" stroke-width="0.6"/>
<line x1="240.40" y1="418.90" x2="240.40" y2="417.90" stroke="#333" stroke-width="0.6"/>
<text x="240.40" y="431.00" font-size="10" font-weight="normal" text-anchor="middle" fill="#262626" stroke="#262626" stroke-width="0.2" >1.4</text>
<text x="275.60" y="431.00" font-size="10" font-weight="normal" text-anchor="middle" fill="#262626" stroke="#262626" stroke-width="0.2" >1.6</text>
<line x1="345.80" y1="124.10" x2="345.80" y2="121.90" stroke="#c0c0c0" stroke-width="1.0"/>
<line x1="345.80" y1="15.10" x2="345.80" y2="17.30" stroke="#c0c0c0" stroke-width="1.0"/>
<line x1="377.20" y1="124.10" x2="377.20" y2="121.90" stroke="#c0c0c0" stroke-width="1.0"/>
<line x1="377.20" y1="15.10" x2="377.20" y2="17.30" stroke="#c0c0c0" stroke-width="1.0"/>
<line x1="408.60" y1="124.10" x2="408.60" y2="121.90" stroke="#c0c0c0" stroke-width="1.0"/>
<line x1="408.60" y1="15.10" x2="408.60" y2="17.30" stroke="#c0c0c0" stroke-width="1.0"/>
<line x1="440.00" y1="124.10" x2="440.00" y2="121.90" stroke="#c0c0c0" stroke-width="1.0"/>
<line x1="440.00" y1="15.10" x2="440.00" y2="17.30" stroke="#c0c0c0" stroke-width="1.0"/>
<line x1="471.40" y1="124.10" x2="471.40" y2="121.90" stroke="#c0c0c0" stroke-width="1.0"/>
<line x1="471.40" y1="15.10" x2="471.40" y2="17.30" stroke="#c0c0c0" stroke-width="1.0"/>
<line x1="502.80" y1="124.10" x2="502.80" y2="121.90" stroke="#c0c0c0" stroke-width="1.0"/>
<line x1="502.80" y1="15.10" x2="502.80" y2="17.30" stroke="#c0c0c0" stroke-width="1.0"/>
<line x1="534.20" y1="124.10" x2="534.20" y2="121.90" stroke="#c0c0c0" stroke-width="1.0"/>
<line x1="534.20" y1="15.10" x2="534.20" y2="17.30" stroke="#c0c0c0" stroke-width="1.0"/>
<line x1="322.20" y1="33.40" x2="324.40" y2="33.40" stroke="#c0c0c0" stroke-width="1.0"/>
<line x1="542.40" y1="33.40" x2="540.20" y2="33.40" stroke="#c0c0c0" stroke-width="1.0"/>
<line x1="322.20" y1="51.60" x2="324.40" y2="51.60" stroke="#c0c0c0" stroke-width="1.0"/>
<line x1="542.40" y1="51.60" x2="540.20" y2="51.60" stroke="#c0c0c0" stroke-width="1.0"/>
<line x1="322.20" y1="69.80" x2="324.40" y2="69.80" stroke="#c0c0c0" stroke-width="1.0"/>
<line x1="542.40" y1="69.80" x2="540.20" y2="69.80" stroke="#c0c0c0" stroke-width="1.0"/>
<line x1="322.20" y1="88.00" x2="324.40" y2="88.00" stroke="#c0c0c0" stroke-width="1.0"/>
<line x1="542.40" y1="88.00" x2="540.20" y2="88.00" stroke="#c0c0c0" stroke-width="1.0"/>
<line x1="322.20" y1="106.20" x2="324.40" y2="106.20" stroke="#c0c0c0" stroke-width="1.0"/>
<line x1="542.40" y1="106.20" x2="540.20" y2="106.20" stroke="#c0c0c0" stroke-width="1.0"/>
<line x1="322.20" y1="124.30" x2="324.40" y2="124.30" stroke="#c0c0c0" stroke-width="1.0"/>
<line x1="542.40" y1="124.30" x2="540.20" y2="124.30" stroke="#c0c0c0" stroke-width="1.0"/>
<rect x="322.20" y="15.10" width="220.20" height="109.00" fill="none" stroke="#c0c0c0" stroke-width="1.0"/>
<text x="345.80" y="135.60" font-size="9.15" font-weight="normal" text-anchor="middle" fill="#262626" stroke="#262626" stroke-width="0.2" >8100</text>
<text x="377.20" y="135.60" font-size="9.15" font-weight="normal" text-anchor="middle" fill="#262626" stroke="#262626" stroke-width="0.2" >8200</text>
<text x="408.60" y="135.60" font-size="9.15" font-weight="normal" text-anchor="middle" fill="#262626" stroke="#262626" stroke-width="0.2" >8300</text>
<text x="440.00" y="135.60" font-size="9.15" font-weight="normal" text-anchor="middle" fill="#262626" stroke="#262626" stroke-width="0.2" >8400</text>
<text x="471.40" y="135.60" font-size="9.15" font-weight="normal" text-anchor="middle" fill="#262626" stroke="#262626" stroke-width="0.2" >8500</text>
<text x="502.80" y="135.60" font-size="9.15" font-weight="normal" text-anchor="middle" fill="#262626" stroke="#262626" stroke-width="0.2" >8600</text>
<text x="534.20" y="135.60" font-size="9.15" font-weight="normal" text-anchor="middle" fill="#262626" stroke="#262626" stroke-width="0.2" >8700</text>
<text x="319.60" y="36.40" font-size="9.15" font-weight="normal" text-anchor="end" fill="#262626" stroke="#262626" stroke-width="0.2" >0.04</text>
<text x="319.60" y="54.60" font-size="9.15" font-weight="normal" text-anchor="end" fill="#262626" stroke="#262626" stroke-width="0.2" >0.02</text>
<text x="319.60" y="72.80" font-size="9.15" font-weight="normal" text-anchor="end" fill="#262626" stroke="#262626" stroke-width="0.2" >0</text>
<text x="319.60" y="91.00" font-size="9.15" font-weight="normal" text-anchor="end" fill="#262626" stroke="#262626" stroke-width="0.2" >-0.02</text>
<text x="319.60" y="109.20" font-size="9.15" font-weight="normal" text-anchor="end" fill="#262626" stroke="#262626" stroke-width="0.2" >-0.04</text>
<text x="319.60" y="127.30" font-size="9.15" font-weight="normal" text-anchor="end" fill="#262626" stroke="#262626" stroke-width="0.2" >-0.06</text>
<text x="293.70" y="19.70" font-size="12" font-weight="normal" text-anchor="start" fill="#222" stroke="#222" stroke-width="0.2" >(d)</text>
<text x="432.30" y="146.00" font-size="9.15" font-weight="bold" text-anchor="middle" fill="#222" stroke="#222" stroke-width="0.2" >Sampling point</text>
<text x="296.70" y="69.20" font-size="9.15" font-weight="bold" text-anchor="middle" fill="#222" stroke="#222" stroke-width="0.2" transform="rotate(-90 296.70 69.20)" dy="0.33em">Amplitude(V)</text>
<path d="M322.20,69.80 L322.45,69.80 L322.70,69.80 L322.95,69.80 L323.20,69.80 L323.45,69.80 L323.71,69.80 L323.96,69.80 L324.21,69.81 L324.46,69.81 L324.71,69.81 L324.96,69.81 L325.21,69.81 L325.46,69.81 L325.71,69.82 L325.96,69.82 L326.21,69.82 L326.47,69.82 L326.72,69.82 L326.97,69.83 L327.22,69.83 L327.47,69.83 L327.72,69.83 L327.97,69.84 L328.22,69.84 L328.47,69.84 L328.72,69.85 L328.97,69.85 L329.23,69.85 L329.48,69.85 L329.73,69.86 L329.98,69.86 L330.23,69.86 L330.48,69.87 L330.73,69.87 L330.98,69.87 L331.23,69.87 L331.48,69.88 L331.73,69.88 L331.99,69.88 L332.24,69.88 L332.49,69.88 L332.74,69.89 L332.99,69.89 L333.24,69.89 L333.49,69.89 L333.74,69.89 L333.99,69.89 L334.24,69.90 L334.49,69.90 L334.75,69.90 L335.00,69.90 L335.25,69.90 L335.50,69.90 L335.75,69.90 L336.00,69.90 L336.25,69.90 L336.50,69.89 L336.75,69.87 L337.00,69.84 L337.25,69.81 L337.50,69.78 L337.75,69.74 L338.00,69.69 L338.25,69.65 L338.50,69.60 L338.75,69.55 L339.00,69.51 L339.25,69.46 L339.50,69.42 L339.75,69.39 L340.00,69.36 L340.25,69.33 L340.50,69.31 L340.75,69.30 L341.00,69.30 L341.25,69.30 L341.50,69.31 L341.75,69.32 L342.00,69.33 L342.25,69.34 L342.50,69.36 L342.75,69.38 L343.00,69.40 L343.25,69.43 L343.50,69.45 L343.75,69.47 L344.00,69.50 L344.25,69.52 L344.50,69.54 L344.75,69.56 L345.00,69.57 L345.25,69.58 L345.50,69.59 L345.75,69.60 L346.00,69.60 L346.26,69.61 L346.52,69.64 L346.78,69.68 L347.04,69.74 L347.29,69.82 L347.55,69.90 L347.81,70.00 L348.07,70.10 L348.33,70.20 L348.59,70.30 L348.85,70.40 L349.11,70.48 L349.36,70.56 L349.62,70.62 L349.88,70.66 L350.14,70.69 L350.40,70.70 L350.65,70.69 L350.90,70.66 L351.15,70.61 L351.40,70.54 L351.65,70.45 L351.90,70.35 L352.15,70.24 L352.40,70.12 L352.65,70.00 L352.90,69.88 L353.15,69.76 L353.40,69.65 L353.65,69.55 L353.90,69.46 L354.15,69.39 L354.40,69.34 L354.65,69.31 L354.90,69.30 L355.16,69.31 L355.42,69.35 L355.67,69.42 L355.93,69.50 L356.19,69.60 L356.45,69.70 L356.71,69.80 L356.97,69.90 L357.23,69.98 L357.48,70.05 L357.74,70.09 L358.00,70.10 L358.25,70.08 L358.50,70.02 L358.75,69.93 L359.00,69.80 L359.25,69.64 L359.50,69.44 L359.75,69.23 L360.00,68.99 L360.25,68.74 L360.50,68.47 L360.75,68.20 L361.00,67.93 L361.25,67.66 L361.50,67.41 L361.75,67.17 L362.00,66.96 L362.25,66.76 L362.50,66.60 L362.75,66.47 L363.00,66.38 L363.25,66.32 L363.50,66.30 L363.75,66.36 L364.00,66.52 L364.25,66.80 L364.50,67.17 L364.75,67.64 L365.00,68.20 L365.25,68.83 L365.50,69.52 L365.75,70.25 L366.00,71.02 L366.25,71.80 L366.50,72.58 L366.75,73.35 L367.00,74.08 L367.25,74.77 L367.50,75.40 L367.75,75.96 L368.00,76.43 L368.25,76.80 L368.50,77.08 L368.75,77.24 L369.00,77.30 L369.25,77.22 L369.50,76.98 L369.76,76.58 L370.01,76.04 L370.26,75.35 L370.51,74.54 L370.76,73.60 L371.02,72.57 L371.27,71.44 L371.52,70.25 L371.77,69.01 L372.02,67.74 L372.28,66.46 L372.53,65.19 L372.78,63.95 L373.03,62.76 L373.28,61.63 L373.54,60.60 L373.79,59.66 L374.04,58.85 L374.29,58.16 L374.54,57.62 L374.80,57.22 L375.05,56.98 L375.30,56.90 L375.55,57.04 L375.80,57.47 L376.05,58.17 L376.30,59.12 L376.55,60.32 L376.80,61.73 L377.05,63.33 L377.30,65.08 L377.55,66.96 L377.80,68.91 L378.05,70.90 L378.30,72.89 L378.55,74.84 L378.80,76.72 L379.05,78.47 L379.30,80.07 L379.55,81.48 L379.80,82.68 L380.05,83.63 L380.30,84.33 L380.55,84.76 L380.80,84.90 L381.06,84.78 L381.32,84.43 L381.58,83.84 L381.84,83.04 L382.10,82.04 L382.35,80.86 L382.61,79.53 L382.87,78.06 L383.13,76.50 L383.39,74.87 L383.65,73.20 L383.91,71.53 L384.17,69.90 L384.43,68.34 L384.69,66.87 L384.95,65.54 L385.20,64.36 L385.46,63.36 L385.72,62.56 L385.98,61.97 L386.24,61.62 L386.50,61.50 L386.75,61.48 L387.00,61.41 L387.25,61.31 L387.50,61.17 L387.75,60.99 L388.00,60.78 L388.25,60.54 L388.50,60.27 L388.75,59.99 L389.00,59.70 L389.25,59.40 L389.50,59.10 L389.75,58.81 L390.00,58.53 L390.25,58.26 L390.50,58.02 L390.75,57.81 L391.00,57.63 L391.25,57.49 L391.50,57.39 L391.75,57.32 L392.00,57.30 L392.25,57.43 L392.51,57.81 L392.76,58.44 L393.01,59.32 L393.27,60.43 L393.52,61.76 L393.77,63.30 L394.03,65.03 L394.28,66.93 L394.53,68.97 L394.79,71.15 L395.04,73.43 L395.29,75.80 L395.55,78.21 L395.80,80.65 L396.05,83.09 L396.31,85.50 L396.56,87.87 L396.81,90.15 L397.07,92.32 L397.32,94.37 L397.57,96.27 L397.83,98.00 L398.08,99.54 L398.33,100.87 L398.59,101.98 L398.84,102.86 L399.09,103.49 L399.35,103.87 L399.60,104.00 L399.86,103.76 L400.11,103.04 L400.37,101.85 L400.62,100.20 L400.88,98.12 L401.13,95.62 L401.39,92.74 L401.64,89.51 L401.90,85.96 L402.15,82.15 L402.41,78.11 L402.66,73.90 L402.92,69.55 L403.17,65.13 L403.43,60.67 L403.68,56.25 L403.94,51.90 L404.19,47.69 L404.45,43.65 L404.70,39.84 L404.96,36.29 L405.21,33.06 L405.47,30.18 L405.72,27.68 L405.98,25.60 L406.23,23.95 L406.49,22.76 L406.74,22.04 L407.00,21.80 L407.25,22.07 L407.51,22.86 L407.76,24.18 L408.01,26.01 L408.27,28.32 L408.52,31.10 L408.77,34.31 L409.03,37.91 L409.28,41.87 L409.53,46.15 L409.79,50.69 L410.04,55.45 L410.29,60.37 L410.55,65.41 L410.80,70.50 L411.05,75.59 L411.31,80.63 L411.56,85.55 L411.81,90.31 L412.07,94.85 L412.32,99.13 L412.57,103.09 L412.83,106.69 L413.08,109.90 L413.33,112.68 L413.59,114.99 L413.84,116.82 L414.09,118.14 L414.35,118.93 L414.60,119.20 L414.86,118.91 L415.11,118.06 L415.37,116.65 L415.63,114.70 L415.89,112.24 L416.14,109.30 L416.40,105.90 L416.66,102.11 L416.91,97.95 L417.17,93.50 L417.43,88.79 L417.69,83.90 L417.94,78.88 L418.20,73.80 L418.46,68.72 L418.71,63.70 L418.97,58.81 L419.23,54.10 L419.49,49.65 L419.74,45.49 L420.00,41.70 L420.26,38.30 L420.51,35.36 L420.77,32.90 L421.03,30.95 L421.29,29.54 L421.54,28.69 L421.80,28.40 L422.05,28.58 L422.30,29.10 L422.55,29.97 L422.80,31.18 L423.05,32.70 L423.30,34.53 L423.55,36.65 L423.80,39.02 L424.05,41.63 L424.30,44.45 L424.55,47.44 L424.80,50.58 L425.05,53.83 L425.30,57.14 L425.55,60.50 L425.80,63.86 L426.05,67.17 L426.30,70.42 L426.55,73.56 L426.80,76.55 L427.05,79.37 L427.30,81.98 L427.55,84.35 L427.80,86.47 L428.05,88.30 L428.30,89.82 L428.55,91.03 L428.80,91.90 L429.05,92.42 L429.30,92.60 L429.55,92.52 L429.81,92.27 L430.06,91.87 L430.31,91.31 L430.56,90.60 L430.82,89.74 L431.07,88.74 L431.32,87.62 L431.58,86.37 L431.83,85.01 L432.08,83.55 L432.34,82.01 L432.59,80.40 L432.84,78.73 L433.09,77.01 L433.35,75.26 L433.60,73.50 L433.85,71.74 L434.11,69.99 L434.36,68.27 L434.61,66.60 L434.86,64.99 L435.12,63.45 L435.37,61.99 L435.62,60.63 L435.88,59.38 L436.13,58.26 L436.38,57.26 L436.64,56.40 L436.89,55.69 L437.14,55.13 L437.39,54.73 L437.65,54.48 L437.90,54.40 L438.16,54.48 L438.41,54.72 L438.67,55.11 L438.93,55.66 L439.18,56.36 L439.44,57.19 L439.70,58.15 L439.95,59.23 L440.21,60.42 L440.47,61.70 L440.72,63.06 L440.98,64.49 L441.24,65.96 L441.49,67.47 L441.75,69.00 L442.01,70.53 L442.26,72.04 L442.52,73.51 L442.78,74.94 L443.03,76.30 L443.29,77.58 L443.55,78.77 L443.80,79.85 L444.06,80.81 L444.32,81.64 L444.57,82.34 L444.83,82.89 L445.09,83.28 L445.34,83.52 L445.60,83.60 L445.85,83.50 L446.10,83.22 L446.36,82.75 L446.61,82.10 L446.86,81.29 L447.11,80.32 L447.36,79.21 L447.62,77.98 L447.87,76.65 L448.12,75.24 L448.37,73.77 L448.62,72.26 L448.88,70.74 L449.13,69.23 L449.38,67.76 L449.63,66.35 L449.88,65.02 L450.14,63.79 L450.39,62.68 L450.64,61.71 L450.89,60.90 L451.14,60.25 L451.40,59.78 L451.65,59.50 L451.90,59.40 L452.16,59.47 L452.41,59.67 L452.67,60.00 L452.93,60.45 L453.18,61.01 L453.44,61.69 L453.70,62.45 L453.95,63.29 L454.21,64.19 L454.47,65.14 L454.72,66.11 L454.98,67.09 L455.23,68.06 L455.49,69.01 L455.75,69.91 L456.00,70.75 L456.26,71.51 L456.52,72.19 L456.77,72.75 L457.03,73.20 L457.29,73.53 L457.54,73.73 L457.80,73.80 L458.06,73.77 L458.32,73.69 L458.58,73.57 L458.84,73.39 L459.11,73.17 L459.37,72.92 L459.63,72.65 L459.89,72.35 L460.15,72.05 L460.41,71.75 L460.67,71.45 L460.93,71.17 L461.19,70.93 L461.46,70.71 L461.72,70.53 L461.98,70.41 L462.24,70.33 L462.50,70.30 L462.75,70.31 L463.00,70.32 L463.25,70.35 L463.50,70.39 L463.75,70.44 L464.00,70.49 L464.25,70.55 L464.50,70.61 L464.75,70.66 L465.00,70.71 L465.25,70.75 L465.50,70.78 L465.75,70.79 L466.00,70.80 L466.25,70.78 L466.51,70.74 L466.76,70.67 L467.01,70.57 L467.26,70.45 L467.52,70.30 L467.77,70.14 L468.02,69.97 L468.27,69.79 L468.53,69.61 L468.78,69.43 L469.03,69.26 L469.28,69.10 L469.54,68.95 L469.79,68.83 L470.04,68.73 L470.29,68.66 L470.55,68.62 L470.80,68.60 L471.06,68.61 L471.31,68.63 L471.57,68.66 L471.83,68.70 L472.09,68.75 L472.34,68.82 L472.60,68.89 L472.86,68.98 L473.11,69.07 L473.37,69.17 L473.63,69.27 L473.89,69.38 L474.14,69.49 L474.40,69.60 L474.66,69.71 L474.91,69.82 L475.17,69.93 L475.43,70.03 L475.69,70.13 L475.94,70.22 L476.20,70.31 L476.46,70.38 L476.71,70.45 L476.97,70.50 L477.23,70.54 L477.49,70.57 L477.74,70.59 L478.00,70.60 L478.25,70.60 L478.50,70.59 L478.75,70.58 L479.00,70.57 L479.25,70.56 L479.50,70.54 L479.75,70.52 L480.00,70.50 L480.25,70.47 L480.50,70.44 L480.75,70.41 L481.00,70.38 L481.25,70.35 L481.50,70.32 L481.75,70.28 L482.00,70.25 L482.25,70.22 L482.50,70.18 L482.75,70.15 L483.00,70.12 L483.25,70.09 L483.50,70.06 L483.75,70.03 L484.00,70.00 L484.25,69.98 L484.50,69.96 L484.75,69.94 L485.00,69.93 L485.25,69.92 L485.50,69.91 L485.75,69.90 L486.00,69.90 L486.25,69.90 L486.50,69.89 L486.75,69.88 L487.00,69.86 L487.25,69.84 L487.50,69.81 L487.75,69.78 L488.00,69.75 L488.25,69.71 L488.50,69.68 L488.75,69.64 L489.00,69.60 L489.25,69.56 L489.50,69.52 L489.75,69.49 L490.00,69.45 L490.25,69.42 L490.50,69.39 L490.75,69.36 L491.00,69.34 L491.25,69.32 L491.50,69.31 L491.75,69.30 L492.00,69.30 L492.25,69.30 L492.50,69.31 L492.75,69.31 L493.00,69.32 L493.25,69.34 L493.50,69.35 L493.75,69.37 L494.00,69.39 L494.25,69.41 L494.50,69.43 L494.75,69.46 L495.00,69.49 L495.25,69.51 L495.50,69.54 L495.75,69.57 L496.00,69.60 L496.25,69.63 L496.50,69.66 L496.75,69.69 L497.00,69.71 L497.25,69.74 L497.50,69.77 L497.75,69.79 L498.00,69.81 L498.25,69.83 L498.50,69.85 L498.75,69.86 L499.00,69.88 L499.25,69.89 L499.50,69.89 L499.75,69.90 L500.00,69.90 L500.25,69.90 L500.50,69.90 L500.75,69.90 L501.00,69.90 L501.25,69.90 L501.51,69.90 L501.76,69.90 L502.01,69.90 L502.26,69.90 L502.51,69.90 L502.76,69.90 L503.01,69.90 L503.26,69.90 L503.51,69.90 L503.76,69.90 L504.01,69.90 L504.27,69.90 L504.52,69.90 L504.77,69.90 L505.02,69.90 L505.27,69.90 L505.52,69.90 L505.77,69.90 L506.02,69.90 L506.27,69.89 L506.52,69.89 L506.77,69.89 L507.02,69.89 L507.28,69.89 L507.53,69.89 L507.78,69.89 L508.03,69.89 L508.28,69.89 L508.53,69.89 L508.78,69.89 L509.03,69.89 L509.28,69.89 L509.53,69.89 L509.78,69.89 L510.04,69.89 L510.29,69.89 L510.54,69.89 L510.79,69.88 L511.04,69.88 L511.29,69.88 L511.54,69.88 L511.79,69.88 L512.04,69.88 L512.29,69.88 L512.54,69.88 L512.80,69.88 L513.05,69.88 L513.30,69.88 L513.55,69.88 L513.80,69.88 L514.05,69.88 L514.30,69.87 L514.55,69.87 L514.80,69.87 L515.05,69.87 L515.30,69.87 L515.56,69.87 L515.81,69.87 L516.06,69.87 L516.31,69.87 L516.56,69.87 L516.81,69.87 L517.06,69.87 L517.31,69.86 L517.56,69.86 L517.81,69.86 L518.06,69.86 L518.31,69.86 L518.57,69.86 L518.82,69.86 L519.07,69.86 L519.32,69.86 L519.57,69.86 L519.82,69.86 L520.07,69.85 L520.32,69.85 L520.57,69.85 L520.82,69.85 L521.07,69.85 L521.33,69.85 L521.58,69.85 L521.83,69.85 L522.08,69.85 L522.33,69.85 L522.58,69.84 L522.83,69.84 L523.08,69.84 L523.33,69.84 L523.58,69.84 L523.83,69.84 L524.09,69.84 L524.34,69.84 L524.59,69.84 L524.84,69.84 L525.09,69.84 L525.34,69.83 L525.59,69.83 L525.84,69.83 L526.09,69.83 L526.34,69.83 L526.59,69.83 L526.84,69.83 L527.10,69.83 L527.35,69.83 L527.60,69.83 L527.85,69.83 L528.10,69.83 L528.35,69.82 L528.60,69.82 L528.85,69.82 L529.10,69.82 L529.35,69.82 L529.60,69.82 L529.86,69.82 L530.11,69.82 L530.36,69.82 L530.61,69.82 L530.86,69.82 L531.11,69.82 L531.36,69.82 L531.61,69.82 L531.86,69.81 L532.11,69.81 L532.36,69.81 L532.62,69.81 L532.87,69.81 L533.12,69.81 L533.37,69.81 L533.62,69.81 L533.87,69.81 L534.12,69.81 L534.37,69.81 L534.62,69.81 L534.87,69.81 L535.12,69.81 L535.38,69.81 L535.63,69.81 L535.88,69.81 L536.13,69.81 L536.38,69.80 L536.63,69.80 L536.88,69.80 L537.13,69.80 L537.38,69.80 L537.63,69.80 L537.88,69.80 L538.13,69.80 L538.39,69.80 L538.64,69.80 L538.89,69.80 L539.14,69.80 L539.39,69.80 L539.64,69.80 L539.89,69.80 L540.14,69.80 L540.39,69.80 L540.64,69.80 L540.89,69.80 L541.15,69.80 L541.40,69.80 L541.65,69.80 L541.90,69.80 L542.15,69.80 L542.40,69.80" fill="none" stroke="#3ea8dc" stroke-width="1.35" stroke-linejoin="round"/>
<line x1="345.50" y1="75.70" x2="410.30" y2="32.40" stroke="#f0805a" stroke-width="1.1"/>
<line x1="345.50" y1="62.10" x2="416.70" y2="116.60" stroke="#f2bd4a" stroke-width="1.1"/>
<circle cx="354.9" cy="69.3" r="1.6" fill="none" stroke="#666" stroke-width="0.7"/>
<text x="324.10" y="59.80" font-size="5.9" font-weight="bold" text-anchor="start" fill="#111" stroke="#111" stroke-width="0.2" >Start point is 8128</text>
<rect x="436.20" y="17.20" width="104.80" height="31.20" fill="#fff" stroke="#aaa" stroke-width="0.8"/>
<line x1="437.40" y1="22.40" x2="441.60" y2="22.40" stroke="#3ea8dc" stroke-width="1.2"/>
<text x="442.20" y="25.50" font-size="9.15" font-weight="bold" text-anchor="start" fill="#111" stroke="#111" stroke-width="0.2" >Denoised signal</text>
<line x1="437.40" y1="32.80" x2="441.60" y2="32.80" stroke="#f0805a" stroke-width="1.2"/>
<text x="442.20" y="35.90" font-size="9.15" font-weight="bold" text-anchor="start" fill="#111" stroke="#111" stroke-width="0.2" >Upper characteristic line</text>
<line x1="437.40" y1="43.20" x2="441.60" y2="43.20" stroke="#f2bd4a" stroke-width="1.2"/>
<text x="442.20" y="46.30" font-size="9.15" font-weight="bold" text-anchor="start" fill="#111" stroke="#111" stroke-width="0.2" >Lower characteristic line</text>
<line x1="325.90" y1="266.60" x2="325.90" y2="264.40" stroke="#c0c0c0" stroke-width="1.0"/>
<line x1="325.90" y1="156.70" x2="325.90" y2="158.90" stroke="#c0c0c0" stroke-width="1.0"/>
<line x1="357.60" y1="266.60" x2="357.60" y2="264.40" stroke="#c0c0c0" stroke-width="1.0"/>
<line x1="357.60" y1="156.70" x2="357.60" y2="158.90" stroke="#c0c0c0" stroke-width="1.0"/>
<line x1="389.30" y1="266.60" x2="389.30" y2="264.40" stroke="#c0c0c0" stroke-width="1.0"/>
<line x1="389.30" y1="156.70" x2="389.30" y2="158.90" stroke="#c0c0c0" stroke-width="1.0"/>
<line x1="421.00" y1="266.60" x2="421.00" y2="264.40" stroke="#c0c0c0" stroke-width="1.0"/>
<line x1="421.00" y1="156.70" x2="421.00" y2="158.90" stroke="#c0c0c0" stroke-width="1.0"/>
<line x1="452.70" y1="266.60" x2="452.70" y2="264.40" stroke="#c0c0c0" stroke-width="1.0"/>
<line x1="452.70" y1="156.70" x2="452.70" y2="158.90" stroke="#c0c0c0" stroke-width="1.0"/>
<line x1="484.40" y1="266.60" x2="484.40" y2="264.40" stroke="#c0c0c0" stroke-width="1.0"/>
<line x1="484.40" y1="156.70" x2="484.40" y2="158.90" stroke="#c0c0c0" stroke-width="1.0"/>
<line x1="516.10" y1="266.60" x2="516.10" y2="264.40" stroke="#c0c0c0" stroke-width="1.0"/>
<line x1="516.10" y1="156.70" x2="516.10" y2="158.90" stroke="#c0c0c0" stroke-width="1.0"/>
<line x1="320.40" y1="175.90" x2="322.60" y2="175.90" stroke="#c0c0c0" stroke-width="1.0"/>
<line x1="543.20" y1="175.90" x2="541.00" y2="175.90" stroke="#c0c0c0" stroke-width="1.0"/>
<line x1="320.40" y1="212.10" x2="322.60" y2="212.10" stroke="#c0c0c0" stroke-width="1.0"/>
<line x1="543.20" y1="212.10" x2="541.00" y2="212.10" stroke="#c0c0c0" stroke-width="1.0"/>
<line x1="320.40" y1="248.30" x2="322.60" y2="248.30" stroke="#c0c0c0" stroke-width="1.0"/>
<line x1="543.20" y1="248.30" x2="541.00" y2="248.30" stroke="#c0c0c0" stroke-width="1.0"/>
<rect x="320.40" y="156.70" width="222.80" height="109.90" fill="none" stroke="#c0c0c0" stroke-width="1.0"/>
<text x="325.90" y="278.10" font-size="9.15" font-weight="normal" text-anchor="middle" fill="#262626" stroke="#262626" stroke-width="0.2" >5700</text>
<text x="357.60" y="278.10" font-size="9.15" font-weight="normal" text-anchor="middle" fill="#262626" stroke="#262626" stroke-width="0.2" >5800</text>
<text x="389.30" y="278.10" font-size="9.15" font-weight="normal" text-anchor="middle" fill="#262626" stroke="#262626" stroke-width="0.2" >5900</text>
<text x="421.00" y="278.10" font-size="9.15" font-weight="normal" text-anchor="middle" fill="#262626" stroke="#262626" stroke-width="0.2" >6000</text>
<text x="452.70" y="278.10" font-size="9.15" font-weight="normal" text-anchor="middle" fill="#262626" stroke="#262626" stroke-width="0.2" >6100</text>
<text x="484.40" y="278.10" font-size="9.15" font-weight="normal" text-anchor="middle" fill="#262626" stroke="#262626" stroke-width="0.2" >6200</text>
<text x="516.10" y="278.10" font-size="9.15" font-weight="normal" text-anchor="middle" fill="#262626" stroke="#262626" stroke-width="0.2" >6300</text>
<text x="317.80" y="178.90" font-size="9.15" font-weight="normal" text-anchor="end" fill="#262626" stroke="#262626" stroke-width="0.2" >0.1</text>
<text x="317.80" y="215.10" font-size="9.15" font-weight="normal" text-anchor="end" fill="#262626" stroke="#262626" stroke-width="0.2" >0</text>
<text x="317.80" y="251.30" font-size="9.15" font-weight="normal" text-anchor="end" fill="#262626" stroke="#262626" stroke-width="0.2" >-0.1</text>
<text x="293.20" y="160.80" font-size="12" font-weight="normal" text-anchor="start" fill="#222" stroke="#222" stroke-width="0.2" >(e)</text>
<text x="431.80" y="288.40" font-size="9.15" font-weight="bold" text-anchor="middle" fill="#222" stroke="#222" stroke-width="0.2" >Sampling point</text>
<text x="299.50" y="211.00" font-size="9.15" font-weight="bold" text-anchor="middle" fill="#222" stroke="#222" stroke-width="0.2" transform="rotate(-90 299.50 211.00)" dy="0.33em">Amplitude(V)</text>
<path d="M320.40,211.90 L320.65,211.90 L320.90,211.90 L321.16,211.90 L321.41,211.91 L321.66,211.91 L321.91,211.91 L322.16,211.92 L322.41,211.92 L322.67,211.92 L322.92,211.93 L323.17,211.94 L323.42,211.94 L323.67,211.95 L323.92,211.96 L324.18,211.97 L324.43,211.98 L324.68,211.98 L324.93,211.99 L325.18,212.00 L325.44,212.01 L325.69,212.02 L325.94,212.03 L326.19,212.04 L326.44,212.06 L326.69,212.07 L326.95,212.08 L327.20,212.09 L327.45,212.10 L327.70,212.11 L327.95,212.12 L328.21,212.13 L328.46,212.14 L328.71,212.16 L328.96,212.17 L329.21,212.18 L329.46,212.19 L329.72,212.20 L329.97,212.21 L330.22,212.22 L330.47,212.22 L330.72,212.23 L330.98,212.24 L331.23,212.25 L331.48,212.26 L331.73,212.26 L331.98,212.27 L332.23,212.28 L332.49,212.28 L332.74,212.28 L332.99,212.29 L333.24,212.29 L333.49,212.29 L333.74,212.30 L334.00,212.30 L334.25,212.30 L334.50,212.30 L334.75,212.30 L335.01,212.30 L335.26,212.29 L335.52,212.29 L335.77,212.28 L336.03,212.28 L336.29,212.27 L336.54,212.26 L336.80,212.25 L337.05,212.24 L337.31,212.23 L337.56,212.22 L337.81,212.20 L338.07,212.19 L338.32,212.18 L338.58,212.16 L338.83,212.15 L339.09,212.13 L339.34,212.12 L339.60,212.10 L339.86,212.08 L340.11,212.07 L340.37,212.05 L340.62,212.04 L340.88,212.02 L341.13,212.01 L341.38,212.00 L341.64,211.98 L341.89,211.97 L342.15,211.96 L342.40,211.95 L342.66,211.94 L342.91,211.93 L343.17,211.92 L343.43,211.92 L343.68,211.91 L343.94,211.91 L344.19,211.90 L344.44,211.90 L344.70,211.90 L344.95,211.89 L345.20,211.88 L345.46,211.85 L345.71,211.81 L345.96,211.75 L346.21,211.69 L346.47,211.62 L346.72,211.55 L346.97,211.47 L347.22,211.38 L347.47,211.29 L347.73,211.21 L347.98,211.12 L348.23,211.03 L348.48,210.95 L348.73,210.88 L348.99,210.81 L349.24,210.75 L349.49,210.69 L349.74,210.65 L350.00,210.62 L350.25,210.61 L350.50,210.60 L350.75,210.61 L351.00,210.63 L351.25,210.67 L351.50,210.72 L351.75,210.78 L352.00,210.85 L352.25,210.93 L352.50,211.01 L352.75,211.10 L353.00,211.19 L353.25,211.27 L353.50,211.35 L353.75,211.42 L354.00,211.48 L354.25,211.53 L354.50,211.57 L354.75,211.59 L355.00,211.60 L355.25,211.60 L355.50,211.60 L355.75,211.59 L356.00,211.59 L356.25,211.58 L356.50,211.57 L356.75,211.56 L357.00,211.55 L357.25,211.54 L357.50,211.53 L357.75,211.52 L358.00,211.51 L358.25,211.51 L358.50,211.50 L358.75,211.50 L359.00,211.50 L359.26,211.52 L359.51,211.59 L359.77,211.71 L360.02,211.86 L360.28,212.05 L360.53,212.28 L360.79,212.52 L361.04,212.78 L361.30,213.05 L361.56,213.32 L361.81,213.58 L362.07,213.82 L362.32,214.05 L362.58,214.24 L362.83,214.39 L363.09,214.51 L363.34,214.58 L363.60,214.60 L363.85,214.57 L364.11,214.46 L364.36,214.29 L364.62,214.06 L364.87,213.77 L365.12,213.42 L365.38,213.02 L365.63,212.57 L365.88,212.08 L366.14,211.57 L366.39,211.02 L366.65,210.47 L366.90,209.90 L367.15,209.33 L367.41,208.78 L367.66,208.23 L367.92,207.72 L368.17,207.23 L368.42,206.78 L368.68,206.38 L368.93,206.03 L369.18,205.74 L369.44,205.51 L369.69,205.34 L369.95,205.23 L370.20,205.20 L370.45,205.26 L370.70,205.43 L370.95,205.72 L371.20,206.12 L371.45,206.62 L371.70,207.21 L371.95,207.90 L372.20,208.66 L372.45,209.48 L372.70,210.36 L372.95,211.29 L373.20,212.24 L373.45,213.20 L373.70,214.16 L373.95,215.11 L374.20,216.04 L374.45,216.92 L374.70,217.74 L374.95,218.50 L375.20,219.19 L375.45,219.78 L375.70,220.28 L375.95,220.68 L376.20,220.97 L376.45,221.14 L376.70,221.20 L376.95,221.13 L377.20,220.93 L377.46,220.58 L377.71,220.12 L377.96,219.52 L378.21,218.81 L378.46,218.00 L378.71,217.09 L378.97,216.10 L379.22,215.04 L379.47,213.93 L379.72,212.77 L379.97,211.59 L380.23,210.41 L380.48,209.23 L380.73,208.07 L380.98,206.96 L381.23,205.90 L381.49,204.91 L381.74,204.00 L381.99,203.19 L382.24,202.48 L382.49,201.88 L382.74,201.42 L383.00,201.07 L383.25,200.87 L383.50,200.80 L383.75,200.86 L384.01,201.06 L384.26,201.37 L384.51,201.81 L384.77,202.37 L385.02,203.04 L385.27,203.82 L385.52,204.70 L385.78,205.66 L386.03,206.71 L386.28,207.83 L386.54,209.01 L386.79,210.24 L387.04,211.51 L387.30,212.80 L387.55,214.10 L387.80,215.40 L388.06,216.69 L388.31,217.96 L388.56,219.19 L388.82,220.37 L389.07,221.49 L389.32,222.54 L389.58,223.50 L389.83,224.38 L390.08,225.16 L390.33,225.83 L390.59,226.39 L390.84,226.83 L391.09,227.14 L391.35,227.34 L391.60,227.40 L391.85,227.30 L392.10,227.02 L392.35,226.54 L392.61,225.89 L392.86,225.06 L393.11,224.06 L393.36,222.90 L393.61,221.60 L393.86,220.17 L394.12,218.62 L394.37,216.96 L394.62,215.23 L394.87,213.42 L395.12,211.57 L395.37,209.69 L395.63,207.81 L395.88,205.93 L396.13,204.08 L396.38,202.27 L396.63,200.54 L396.88,198.88 L397.14,197.33 L397.39,195.90 L397.64,194.60 L397.89,193.44 L398.14,192.44 L398.39,191.61 L398.65,190.96 L398.90,190.48 L399.15,190.20 L399.40,190.10 L399.66,190.20 L399.91,190.49 L400.17,190.98 L400.42,191.66 L400.68,192.52 L400.93,193.56 L401.19,194.77 L401.44,196.15 L401.70,197.68 L401.95,199.36 L402.21,201.17 L402.46,203.10 L402.72,205.14 L402.97,207.27 L403.23,209.48 L403.48,211.75 L403.74,214.08 L403.99,216.43 L404.25,218.80 L404.51,221.17 L404.76,223.52 L405.02,225.85 L405.27,228.12 L405.53,230.33 L405.78,232.46 L406.04,234.50 L406.29,236.43 L406.55,238.24 L406.80,239.92 L407.06,241.45 L407.31,242.83 L407.57,244.04 L407.82,245.08 L408.08,245.94 L408.33,246.62 L408.59,247.11 L408.84,247.40 L409.10,247.50 L409.35,247.28 L409.60,246.61 L409.85,245.51 L410.10,243.98 L410.35,242.04 L410.60,239.72 L410.85,237.03 L411.10,234.02 L411.35,230.70 L411.60,227.12 L411.85,223.32 L412.10,219.34 L412.35,215.22 L412.60,211.01 L412.85,206.75 L413.10,202.49 L413.35,198.28 L413.60,194.16 L413.85,190.18 L414.10,186.38 L414.35,182.80 L414.60,179.48 L414.85,176.47 L415.10,173.78 L415.35,171.46 L415.60,169.52 L415.85,167.99 L416.10,166.89 L416.35,166.22 L416.60,166.00 L416.86,166.32 L417.11,167.28 L417.37,168.86 L417.62,171.04 L417.88,173.78 L418.14,177.04 L418.39,180.77 L418.65,184.92 L418.90,189.40 L419.16,194.16 L419.42,199.11 L419.67,204.19 L419.93,209.31 L420.18,214.39 L420.44,219.34 L420.70,224.10 L420.95,228.58 L421.21,232.73 L421.46,236.46 L421.72,239.72 L421.98,242.46 L422.23,244.64 L422.49,246.22 L422.74,247.18 L423.00,247.50 L423.25,247.41 L423.51,247.14 L423.76,246.70 L424.01,246.08 L424.26,245.30 L424.52,244.35 L424.77,243.24 L425.02,241.99 L425.27,240.59 L425.53,239.06 L425.78,237.41 L426.03,235.65 L426.28,233.80 L426.54,231.85 L426.79,229.84 L427.04,227.77 L427.29,225.65 L427.55,223.51 L427.80,221.35 L428.05,219.19 L428.31,217.05 L428.56,214.93 L428.81,212.86 L429.06,210.85 L429.32,208.90 L429.57,207.05 L429.82,205.29 L430.07,203.64 L430.33,202.11 L430.58,200.71 L430.83,199.46 L431.08,198.35 L431.34,197.40 L431.59,196.62 L431.84,196.00 L432.09,195.56 L432.35,195.29 L432.60,195.20 L432.86,195.28 L433.11,195.52 L433.37,195.93 L433.62,196.48 L433.88,197.19 L434.14,198.05 L434.39,199.04 L434.65,200.16 L434.90,201.40 L435.16,202.75 L435.41,204.20 L435.67,205.73 L435.93,207.34 L436.18,209.00 L436.44,210.71 L436.69,212.45 L436.95,214.20 L437.21,215.95 L437.46,217.69 L437.72,219.40 L437.97,221.06 L438.23,222.67 L438.49,224.20 L438.74,225.65 L439.00,227.00 L439.25,228.24 L439.51,229.36 L439.76,230.35 L440.02,231.21 L440.28,231.92 L440.53,232.47 L440.79,232.88 L441.04,233.12 L441.30,233.20 L441.55,233.08 L441.80,232.72 L442.06,232.12 L442.31,231.29 L442.56,230.24 L442.81,228.99 L443.06,227.54 L443.31,225.92 L443.57,224.14 L443.82,222.22 L444.07,220.19 L444.32,218.07 L444.57,215.89 L444.82,213.67 L445.08,211.43 L445.33,209.21 L445.58,207.03 L445.83,204.91 L446.08,202.88 L446.33,200.96 L446.59,199.18 L446.84,197.56 L447.09,196.11 L447.34,194.86 L447.59,193.81 L447.84,192.98 L448.10,192.38 L448.35,192.02 L448.60,191.90 L448.86,192.04 L449.12,192.45 L449.38,193.13 L449.63,194.06 L449.89,195.24 L450.15,196.63 L450.41,198.22 L450.67,199.97 L450.93,201.87 L451.18,203.87 L451.44,205.94 L451.70,208.05 L451.96,210.16 L452.22,212.23 L452.48,214.23 L452.73,216.12 L452.99,217.88 L453.25,219.47 L453.51,220.86 L453.77,222.04 L454.03,222.97 L454.28,223.65 L454.54,224.06 L454.80,224.20 L455.05,224.16 L455.31,224.02 L455.56,223.80 L455.81,223.50 L456.07,223.11 L456.32,222.65 L456.57,222.11 L456.82,221.51 L457.08,220.84 L457.33,220.11 L457.58,219.34 L457.84,218.52 L458.09,217.67 L458.34,216.79 L458.60,215.90 L458.85,215.00 L459.10,214.10 L459.36,213.21 L459.61,212.33 L459.86,211.48 L460.12,210.66 L460.37,209.89 L460.62,209.16 L460.88,208.49 L461.13,207.89 L461.38,207.35 L461.63,206.89 L461.89,206.50 L462.14,206.20 L462.39,205.98 L462.65,205.84 L462.90,205.80 L463.15,205.82 L463.41,205.88 L463.66,205.99 L463.91,206.13 L464.17,206.31 L464.42,206.53 L464.67,206.79 L464.92,207.07 L465.18,207.39 L465.43,207.73 L465.68,208.10 L465.94,208.49 L466.19,208.89 L466.44,209.30 L466.70,209.72 L466.95,210.15 L467.20,210.58 L467.46,211.00 L467.71,211.41 L467.96,211.81 L468.22,212.20 L468.47,212.57 L468.72,212.91 L468.98,213.23 L469.23,213.51 L469.48,213.77 L469.73,213.99 L469.99,214.17 L470.24,214.31 L470.49,214.42 L470.75,214.48 L471.00,214.50 L471.25,214.49 L471.50,214.46 L471.75,214.41 L472.00,214.34 L472.25,214.25 L472.50,214.15 L472.75,214.03 L473.00,213.90 L473.25,213.75 L473.50,213.59 L473.75,213.43 L474.00,213.26 L474.25,213.08 L474.50,212.90 L474.75,212.72 L475.00,212.54 L475.25,212.37 L475.50,212.21 L475.75,212.05 L476.00,211.90 L476.25,211.77 L476.50,211.65 L476.75,211.55 L477.00,211.46 L477.25,211.39 L477.50,211.34 L477.75,211.31 L478.00,211.30 L478.25,211.30 L478.50,211.29 L478.75,211.27 L479.00,211.24 L479.25,211.21 L479.50,211.17 L479.75,211.13 L480.00,211.08 L480.25,211.03 L480.50,210.98 L480.75,210.92 L481.00,210.86 L481.25,210.80 L481.50,210.74 L481.75,210.68 L482.00,210.62 L482.25,210.57 L482.50,210.52 L482.75,210.47 L483.00,210.43 L483.25,210.39 L483.50,210.36 L483.75,210.33 L484.00,210.31 L484.25,210.30 L484.50,210.30 L484.75,210.30 L485.00,210.31 L485.25,210.33 L485.50,210.36 L485.75,210.39 L486.00,210.42 L486.25,210.47 L486.50,210.52 L486.75,210.57 L487.00,210.62 L487.25,210.69 L487.50,210.75 L487.75,210.81 L488.00,210.88 L488.25,210.95 L488.50,211.02 L488.75,211.09 L489.00,211.15 L489.25,211.21 L489.50,211.28 L489.75,211.33 L490.00,211.38 L490.25,211.43 L490.50,211.48 L490.75,211.51 L491.00,211.54 L491.25,211.57 L491.50,211.59 L491.75,211.60 L492.00,211.60 L492.25,211.60 L492.50,211.60 L492.75,211.60 L493.00,211.59 L493.25,211.59 L493.50,211.58 L493.75,211.58 L494.00,211.57 L494.25,211.56 L494.50,211.56 L494.75,211.55 L495.00,211.54 L495.25,211.53 L495.50,211.52 L495.75,211.51 L496.00,211.50 L496.25,211.49 L496.50,211.48 L496.75,211.47 L497.00,211.46 L497.25,211.45 L497.50,211.44 L497.75,211.44 L498.00,211.43 L498.25,211.42 L498.50,211.42 L498.75,211.41 L499.00,211.41 L499.25,211.40 L499.50,211.40 L499.75,211.40 L500.00,211.40 L500.25,211.40 L500.50,211.40 L500.75,211.40 L501.00,211.40 L501.26,211.40 L501.51,211.40 L501.76,211.40 L502.01,211.40 L502.26,211.40 L502.51,211.40 L502.76,211.40 L503.01,211.40 L503.27,211.40 L503.52,211.40 L503.77,211.40 L504.02,211.40 L504.27,211.40 L504.52,211.40 L504.77,211.40 L505.02,211.40 L505.27,211.40 L505.53,211.40 L505.78,211.40 L506.03,211.40 L506.28,211.39 L506.53,211.39 L506.78,211.39 L507.03,211.39 L507.28,211.39 L507.53,211.39 L507.79,211.39 L508.04,211.39 L508.29,211.39 L508.54,211.39 L508.79,211.39 L509.04,211.39 L509.29,211.39 L509.54,211.39 L509.80,211.39 L510.05,211.39 L510.30,211.39 L510.55,211.39 L510.80,211.39 L511.05,211.38 L511.30,211.38 L511.55,211.38 L511.80,211.38 L512.06,211.38 L512.31,211.38 L512.56,211.38 L512.81,211.38 L513.06,211.38 L513.31,211.38 L513.56,211.38 L513.81,211.38 L514.07,211.38 L514.32,211.38 L514.57,211.37 L514.82,211.37 L515.07,211.37 L515.32,211.37 L515.57,211.37 L515.82,211.37 L516.07,211.37 L516.33,211.37 L516.58,211.37 L516.83,211.37 L517.08,211.37 L517.33,211.37 L517.58,211.36 L517.83,211.36 L518.08,211.36 L518.33,211.36 L518.59,211.36 L518.84,211.36 L519.09,211.36 L519.34,211.36 L519.59,211.36 L519.84,211.36 L520.09,211.36 L520.34,211.35 L520.60,211.35 L520.85,211.35 L521.10,211.35 L521.35,211.35 L521.60,211.35 L521.85,211.35 L522.10,211.35 L522.35,211.35 L522.60,211.35 L522.86,211.35 L523.11,211.34 L523.36,211.34 L523.61,211.34 L523.86,211.34 L524.11,211.34 L524.36,211.34 L524.61,211.34 L524.87,211.34 L525.12,211.34 L525.37,211.34 L525.62,211.34 L525.87,211.33 L526.12,211.33 L526.37,211.33 L526.62,211.33 L526.87,211.33 L527.13,211.33 L527.38,211.33 L527.63,211.33 L527.88,211.33 L528.13,211.33 L528.38,211.33 L528.63,211.33 L528.88,211.32 L529.13,211.32 L529.39,211.32 L529.64,211.32 L529.89,211.32 L530.14,211.32 L530.39,211.32 L530.64,211.32 L530.89,211.32 L531.14,211.32 L531.40,211.32 L531.65,211.32 L531.90,211.32 L532.15,211.32 L532.40,211.31 L532.65,211.31 L532.90,211.31 L533.15,211.31 L533.40,211.31 L533.66,211.31 L533.91,211.31 L534.16,211.31 L534.41,211.31 L534.66,211.31 L534.91,211.31 L535.16,211.31 L535.41,211.31 L535.67,211.31 L535.92,211.31 L536.17,211.31 L536.42,211.31 L536.67,211.31 L536.92,211.31 L537.17,211.30 L537.42,211.30 L537.67,211.30 L537.93,211.30 L538.18,211.30 L538.43,211.30 L538.68,211.30 L538.93,211.30 L539.18,211.30 L539.43,211.30 L539.68,211.30 L539.93,211.30 L540.19,211.30 L540.44,211.30 L540.69,211.30 L540.94,211.30 L541.19,211.30 L541.44,211.30 L541.69,211.30 L541.94,211.30 L542.20,211.30 L542.45,211.30 L542.70,211.30 L542.95,211.30 L543.20,211.30" fill="none" stroke="#3ea8dc" stroke-width="1.35" stroke-linejoin="round"/>
<line x1="350.80" y1="215.80" x2="416.60" y2="178.20" stroke="#f0805a" stroke-width="1.1"/>
<line x1="350.80" y1="206.50" x2="424.30" y2="249.50" stroke="#f2bd4a" stroke-width="1.1"/>
<circle cx="359.0" cy="211.5" r="1.6" fill="none" stroke="#666" stroke-width="0.7"/>
<text x="327.30" y="201.60" font-size="5.9" font-weight="bold" text-anchor="start" fill="#111" stroke="#111" stroke-width="0.2" >Start point is 5804</text>
<rect x="435.80" y="158.60" width="106.20" height="31.80" fill="#fff" stroke="#aaa" stroke-width="0.8"/>
<line x1="437.00" y1="163.90" x2="441.20" y2="163.90" stroke="#3ea8dc" stroke-width="1.2"/>
<text x="441.80" y="167.00" font-size="9.15" font-weight="bold" text-anchor="start" fill="#111" stroke="#111" stroke-width="0.2" >Denoised signal</text>
<line x1="437.00" y1="174.50" x2="441.20" y2="174.50" stroke="#f0805a" stroke-width="1.2"/>
<text x="441.80" y="177.60" font-size="9.15" font-weight="bold" text-anchor="start" fill="#111" stroke="#111" stroke-width="0.2" >Upper characteristic line</text>
<line x1="437.00" y1="185.10" x2="441.20" y2="185.10" stroke="#f2bd4a" stroke-width="1.2"/>
<text x="441.80" y="188.20" font-size="9.15" font-weight="bold" text-anchor="start" fill="#111" stroke="#111" stroke-width="0.2" >Lower characteristic line</text>
<line x1="326.90" y1="404.60" x2="326.90" y2="402.40" stroke="#c0c0c0" stroke-width="1.0"/>
<line x1="326.90" y1="295.20" x2="326.90" y2="297.40" stroke="#c0c0c0" stroke-width="1.0"/>
<line x1="358.50" y1="404.60" x2="358.50" y2="402.40" stroke="#c0c0c0" stroke-width="1.0"/>
<line x1="358.50" y1="295.20" x2="358.50" y2="297.40" stroke="#c0c0c0" stroke-width="1.0"/>
<line x1="390.10" y1="404.60" x2="390.10" y2="402.40" stroke="#c0c0c0" stroke-width="1.0"/>
<line x1="390.10" y1="295.20" x2="390.10" y2="297.40" stroke="#c0c0c0" stroke-width="1.0"/>
<line x1="421.70" y1="404.60" x2="421.70" y2="402.40" stroke="#c0c0c0" stroke-width="1.0"/>
<line x1="421.70" y1="295.20" x2="421.70" y2="297.40" stroke="#c0c0c0" stroke-width="1.0"/>
<line x1="453.30" y1="404.60" x2="453.30" y2="402.40" stroke="#c0c0c0" stroke-width="1.0"/>
<line x1="453.30" y1="295.20" x2="453.30" y2="297.40" stroke="#c0c0c0" stroke-width="1.0"/>
<line x1="484.90" y1="404.60" x2="484.90" y2="402.40" stroke="#c0c0c0" stroke-width="1.0"/>
<line x1="484.90" y1="295.20" x2="484.90" y2="297.40" stroke="#c0c0c0" stroke-width="1.0"/>
<line x1="516.50" y1="404.60" x2="516.50" y2="402.40" stroke="#c0c0c0" stroke-width="1.0"/>
<line x1="516.50" y1="295.20" x2="516.50" y2="297.40" stroke="#c0c0c0" stroke-width="1.0"/>
<line x1="322.50" y1="298.30" x2="324.70" y2="298.30" stroke="#c0c0c0" stroke-width="1.0"/>
<line x1="544.50" y1="298.30" x2="542.30" y2="298.30" stroke="#c0c0c0" stroke-width="1.0"/>
<line x1="322.50" y1="316.60" x2="324.70" y2="316.60" stroke="#c0c0c0" stroke-width="1.0"/>
<line x1="544.50" y1="316.60" x2="542.30" y2="316.60" stroke="#c0c0c0" stroke-width="1.0"/>
<line x1="322.50" y1="334.90" x2="324.70" y2="334.90" stroke="#c0c0c0" stroke-width="1.0"/>
<line x1="544.50" y1="334.90" x2="542.30" y2="334.90" stroke="#c0c0c0" stroke-width="1.0"/>
<line x1="322.50" y1="353.20" x2="324.70" y2="353.20" stroke="#c0c0c0" stroke-width="1.0"/>
<line x1="544.50" y1="353.20" x2="542.30" y2="353.20" stroke="#c0c0c0" stroke-width="1.0"/>
<line x1="322.50" y1="371.50" x2="324.70" y2="371.50" stroke="#c0c0c0" stroke-width="1.0"/>
<line x1="544.50" y1="371.50" x2="542.30" y2="371.50" stroke="#c0c0c0" stroke-width="1.0"/>
<line x1="322.50" y1="389.80" x2="324.70" y2="389.80" stroke="#c0c0c0" stroke-width="1.0"/>
<line x1="544.50" y1="389.80" x2="542.30" y2="389.80" stroke="#c0c0c0" stroke-width="1.0"/>
<rect x="322.50" y="295.20" width="222.00" height="109.40" fill="none" stroke="#c0c0c0" stroke-width="1.0"/>
<text x="326.90" y="416.10" font-size="9.15" font-weight="normal" text-anchor="middle" fill="#262626" stroke="#262626" stroke-width="0.2" >2600</text>
<text x="358.50" y="416.10" font-size="9.15" font-weight="normal" text-anchor="middle" fill="#262626" stroke="#262626" stroke-width="0.2" >2700</text>
<text x="390.10" y="416.10" font-size="9.15" font-weight="normal" text-anchor="middle" fill="#262626" stroke="#262626" stroke-width="0.2" >2800</text>
<text x="421.70" y="416.10" font-size="9.15" font-weight="normal" text-anchor="middle" fill="#262626" stroke="#262626" stroke-width="0.2" >2900</text>
<text x="453.30" y="416.10" font-size="9.15" font-weight="normal" text-anchor="middle" fill="#262626" stroke="#262626" stroke-width="0.2" >3000</text>
<text x="484.90" y="416.10" font-size="9.15" font-weight="normal" text-anchor="middle" fill="#262626" stroke="#262626" stroke-width="0.2" >3100</text>
<text x="516.50" y="416.10" font-size="9.15" font-weight="normal" text-anchor="middle" fill="#262626" stroke="#262626" stroke-width="0.2" >3200</text>
<text x="319.90" y="301.30" font-size="9.15" font-weight="normal" text-anchor="end" fill="#262626" stroke="#262626" stroke-width="0.2" >0.3</text>
<text x="319.90" y="319.60" font-size="9.15" font-weight="normal" text-anchor="end" fill="#262626" stroke="#262626" stroke-width="0.2" >0.2</text>
<text x="319.90" y="337.90" font-size="9.15" font-weight="normal" text-anchor="end" fill="#262626" stroke="#262626" stroke-width="0.2" >0.1</text>
<text x="319.90" y="356.20" font-size="9.15" font-weight="normal" text-anchor="end" fill="#262626" stroke="#262626" stroke-width="0.2" >0</text>
<text x="319.90" y="374.50" font-size="9.15" font-weight="normal" text-anchor="end" fill="#262626" stroke="#262626" stroke-width="0.2" >-0.1</text>
<text x="319.90" y="392.80" font-size="9.15" font-weight="normal" text-anchor="end" fill="#262626" stroke="#262626" stroke-width="0.2" >-0.2</text>
<text x="294.80" y="296.10" font-size="12" font-weight="normal" text-anchor="start" fill="#222" stroke="#222" stroke-width="0.2" >(f)</text>
<text x="433.50" y="427.40" font-size="9.15" font-weight="bold" text-anchor="middle" fill="#222" stroke="#222" stroke-width="0.2" >Sampling point</text>
<text x="301.00" y="350.00" font-size="9.15" font-weight="bold" text-anchor="middle" fill="#222" stroke="#222" stroke-width="0.2" transform="rotate(-90 301.00 350.00)" dy="0.33em">Amplitude(V)</text>
<path d="M322.50,353.40 L322.75,353.40 L323.00,353.40 L323.25,353.39 L323.50,353.38 L323.75,353.37 L324.00,353.36 L324.25,353.35 L324.50,353.34 L324.75,353.32 L325.00,353.30 L325.25,353.28 L325.50,353.26 L325.75,353.24 L326.00,353.21 L326.25,353.19 L326.50,353.16 L326.75,353.13 L327.00,353.10 L327.25,353.07 L327.50,353.04 L327.75,353.01 L328.00,352.97 L328.25,352.94 L328.50,352.90 L328.75,352.87 L329.00,352.83 L329.25,352.80 L329.50,352.77 L329.75,352.73 L330.00,352.70 L330.25,352.66 L330.50,352.63 L330.75,352.59 L331.00,352.56 L331.25,352.53 L331.50,352.50 L331.75,352.47 L332.00,352.44 L332.25,352.41 L332.50,352.39 L332.75,352.36 L333.00,352.34 L333.25,352.32 L333.50,352.30 L333.75,352.28 L334.00,352.26 L334.25,352.25 L334.50,352.24 L334.75,352.23 L335.00,352.22 L335.25,352.21 L335.50,352.20 L335.75,352.20 L336.00,352.20 L336.25,352.20 L336.51,352.21 L336.76,352.22 L337.02,352.23 L337.27,352.25 L337.53,352.27 L337.79,352.29 L338.04,352.31 L338.30,352.34 L338.55,352.38 L338.81,352.41 L339.06,352.45 L339.31,352.49 L339.57,352.53 L339.82,352.57 L340.08,352.61 L340.33,352.66 L340.59,352.71 L340.84,352.75 L341.10,352.80 L341.36,352.85 L341.61,352.89 L341.87,352.94 L342.12,352.99 L342.38,353.03 L342.63,353.07 L342.88,353.11 L343.14,353.15 L343.39,353.19 L343.65,353.22 L343.90,353.26 L344.16,353.29 L344.41,353.31 L344.67,353.33 L344.93,353.35 L345.18,353.37 L345.44,353.38 L345.69,353.39 L345.94,353.40 L346.20,353.40 L346.45,353.40 L346.70,353.42 L346.95,353.44 L347.20,353.46 L347.45,353.50 L347.70,353.54 L347.95,353.59 L348.20,353.64 L348.45,353.69 L348.70,353.75 L348.95,353.82 L349.20,353.88 L349.45,353.95 L349.70,354.02 L349.95,354.08 L350.20,354.15 L350.45,354.21 L350.70,354.26 L350.95,354.31 L351.20,354.36 L351.45,354.40 L351.70,354.44 L351.95,354.46 L352.20,354.48 L352.45,354.50 L352.70,354.50 L352.95,354.48 L353.21,354.42 L353.46,354.33 L353.71,354.19 L353.96,354.03 L354.22,353.84 L354.47,353.63 L354.72,353.41 L354.97,353.17 L355.23,352.93 L355.48,352.69 L355.73,352.47 L355.98,352.26 L356.24,352.07 L356.49,351.91 L356.74,351.77 L356.99,351.68 L357.25,351.62 L357.50,351.60 L357.76,351.59 L358.02,351.57 L358.28,351.53 L358.54,351.47 L358.81,351.40 L359.07,351.33 L359.33,351.24 L359.59,351.15 L359.85,351.05 L360.11,350.95 L360.37,350.86 L360.63,350.78 L360.89,350.70 L361.16,350.63 L361.42,350.57 L361.68,350.53 L361.94,350.51 L362.20,350.50 L362.45,350.52 L362.70,350.58 L362.95,350.68 L363.20,350.81 L363.45,350.98 L363.70,351.19 L363.95,351.43 L364.20,351.70 L364.45,352.00 L364.70,352.32 L364.95,352.67 L365.20,353.03 L365.45,353.41 L365.70,353.80 L365.95,354.20 L366.20,354.60 L366.45,355.00 L366.70,355.40 L366.95,355.79 L367.20,356.17 L367.45,356.53 L367.70,356.88 L367.95,357.20 L368.20,357.50 L368.45,357.77 L368.70,358.01 L368.95,358.22 L369.20,358.39 L369.45,358.52 L369.70,358.62 L369.95,358.68 L370.20,358.70 L370.45,358.66 L370.70,358.55 L370.95,358.37 L371.21,358.12 L371.46,357.80 L371.71,357.41 L371.96,356.97 L372.21,356.46 L372.46,355.90 L372.72,355.30 L372.97,354.65 L373.22,353.96 L373.47,353.25 L373.72,352.51 L373.97,351.75 L374.22,350.99 L374.48,350.21 L374.73,349.45 L374.98,348.69 L375.23,347.95 L375.48,347.24 L375.73,346.55 L375.98,345.90 L376.24,345.30 L376.49,344.74 L376.74,344.23 L376.99,343.79 L377.24,343.40 L377.49,343.08 L377.75,342.83 L378.00,342.65 L378.25,342.54 L378.50,342.50 L378.76,342.59 L379.01,342.85 L379.27,343.28 L379.53,343.87 L379.79,344.62 L380.04,345.52 L380.30,346.56 L380.56,347.71 L380.81,348.98 L381.07,350.34 L381.33,351.78 L381.59,353.27 L381.84,354.80 L382.10,356.35 L382.36,357.90 L382.61,359.43 L382.87,360.92 L383.13,362.36 L383.39,363.72 L383.64,364.99 L383.90,366.14 L384.16,367.18 L384.41,368.08 L384.67,368.83 L384.93,369.42 L385.19,369.85 L385.44,370.11 L385.70,370.20 L385.96,370.06 L386.21,369.66 L386.47,368.98 L386.72,368.05 L386.98,366.88 L387.23,365.47 L387.49,363.86 L387.74,362.06 L388.00,360.10 L388.26,358.00 L388.51,355.79 L388.77,353.51 L389.02,351.17 L389.28,348.83 L389.53,346.49 L389.79,344.21 L390.04,342.00 L390.30,339.90 L390.56,337.94 L390.81,336.14 L391.07,334.53 L391.32,333.12 L391.58,331.95 L391.83,331.02 L392.09,330.34 L392.34,329.94 L392.60,329.80 L392.86,329.93 L393.11,330.32 L393.37,330.97 L393.63,331.87 L393.88,333.00 L394.14,334.36 L394.40,335.94 L394.65,337.71 L394.91,339.65 L395.17,341.75 L395.42,343.98 L395.68,346.31 L395.94,348.73 L396.19,351.20 L396.45,353.70 L396.71,356.20 L396.96,358.67 L397.22,361.09 L397.48,363.42 L397.73,365.65 L397.99,367.75 L398.25,369.69 L398.50,371.46 L398.76,373.04 L399.02,374.40 L399.27,375.53 L399.53,376.43 L399.79,377.08 L400.04,377.47 L400.30,377.60 L400.55,377.48 L400.80,377.10 L401.05,376.48 L401.31,375.62 L401.56,374.53 L401.81,373.21 L402.06,371.68 L402.31,369.95 L402.56,368.02 L402.81,365.93 L403.07,363.68 L403.32,361.29 L403.57,358.78 L403.82,356.18 L404.07,353.50 L404.32,350.76 L404.57,347.99 L404.83,345.21 L405.08,342.44 L405.33,339.70 L405.58,337.02 L405.83,334.42 L406.08,331.91 L406.33,329.52 L406.59,327.27 L406.84,325.18 L407.09,323.25 L407.34,321.52 L407.59,319.99 L407.84,318.67 L408.09,317.58 L408.35,316.72 L408.60,316.10 L408.85,315.72 L409.10,315.60 L409.36,315.83 L409.61,316.51 L409.87,317.64 L410.13,319.21 L410.38,321.19 L410.64,323.56 L410.90,326.31 L411.15,329.40 L411.41,332.79 L411.67,336.45 L411.92,340.34 L412.18,344.41 L412.44,348.63 L412.69,352.94 L412.95,357.30 L413.21,361.66 L413.46,365.97 L413.72,370.19 L413.98,374.26 L414.23,378.15 L414.49,381.81 L414.75,385.20 L415.00,388.29 L415.26,391.04 L415.52,393.41 L415.77,395.39 L416.03,396.96 L416.29,398.09 L416.54,398.77 L416.80,399.00 L417.06,398.79 L417.31,398.14 L417.57,397.08 L417.82,395.61 L418.08,393.75 L418.34,391.50 L418.59,388.90 L418.85,385.97 L419.11,382.73 L419.36,379.22 L419.62,375.48 L419.88,371.53 L420.13,367.42 L420.39,363.18 L420.64,358.86 L420.90,354.50 L421.16,350.14 L421.41,345.82 L421.67,341.58 L421.93,337.47 L422.18,333.52 L422.44,329.78 L422.69,326.27 L422.95,323.03 L423.21,320.10 L423.46,317.50 L423.72,315.25 L423.98,313.39 L424.23,311.92 L424.49,310.86 L424.74,310.21 L425.00,310.00 L425.25,310.20 L425.50,310.78 L425.75,311.74 L426.00,313.08 L426.25,314.78 L426.50,316.83 L426.75,319.19 L427.00,321.86 L427.25,324.81 L427.50,328.00 L427.75,331.41 L428.00,335.00 L428.25,338.74 L428.50,342.60 L428.75,346.53 L429.00,350.50 L429.25,354.47 L429.50,358.40 L429.75,362.26 L430.00,366.00 L430.25,369.59 L430.50,373.00 L430.75,376.19 L431.00,379.14 L431.25,381.81 L431.50,384.17 L431.75,386.22 L432.00,387.92 L432.25,389.26 L432.50,390.22 L432.75,390.80 L433.00,391.00 L433.25,390.80 L433.50,390.19 L433.75,389.19 L434.01,387.80 L434.26,386.04 L434.51,383.92 L434.76,381.47 L435.01,378.71 L435.26,375.68 L435.52,372.39 L435.77,368.90 L436.02,365.22 L436.27,361.40 L436.52,357.48 L436.77,353.50 L437.03,349.50 L437.28,345.52 L437.53,341.60 L437.78,337.78 L438.03,334.10 L438.28,330.61 L438.54,327.32 L438.79,324.29 L439.04,321.53 L439.29,319.08 L439.54,316.96 L439.79,315.20 L440.05,313.81 L440.30,312.81 L440.55,312.20 L440.80,312.00 L441.05,312.20 L441.30,312.81 L441.55,313.82 L441.81,315.21 L442.06,316.98 L442.31,319.10 L442.56,321.55 L442.81,324.32 L443.06,327.36 L443.32,330.65 L443.57,334.16 L443.82,337.85 L444.07,341.67 L444.32,345.60 L444.57,349.59 L444.83,353.61 L445.08,357.60 L445.33,361.53 L445.58,365.35 L445.83,369.04 L446.08,372.55 L446.34,375.84 L446.59,378.88 L446.84,381.65 L447.09,384.10 L447.34,386.22 L447.59,387.99 L447.85,389.38 L448.10,390.39 L448.35,391.00 L448.60,391.20 L448.86,391.02 L449.11,390.48 L449.37,389.59 L449.63,388.36 L449.88,386.80 L450.14,384.93 L450.40,382.76 L450.65,380.33 L450.91,377.66 L451.17,374.77 L451.42,371.71 L451.68,368.50 L451.94,365.18 L452.19,361.78 L452.45,358.35 L452.71,354.92 L452.96,351.52 L453.22,348.20 L453.48,344.99 L453.73,341.93 L453.99,339.04 L454.25,336.37 L454.50,333.94 L454.76,331.77 L455.02,329.90 L455.27,328.34 L455.53,327.11 L455.79,326.22 L456.04,325.68 L456.30,325.50 L456.55,325.64 L456.80,326.05 L457.05,326.74 L457.30,327.68 L457.55,328.88 L457.80,330.32 L458.05,331.99 L458.30,333.85 L458.55,335.91 L458.80,338.12 L459.05,340.48 L459.30,342.95 L459.55,345.50 L459.80,348.11 L460.05,350.75 L460.30,353.39 L460.55,356.00 L460.80,358.55 L461.05,361.02 L461.30,363.38 L461.55,365.59 L461.80,367.65 L462.05,369.51 L462.30,371.18 L462.55,372.62 L462.80,373.82 L463.05,374.76 L463.30,375.45 L463.55,375.86 L463.80,376.00 L464.05,375.91 L464.30,375.66 L464.55,375.24 L464.81,374.65 L465.06,373.91 L465.31,373.02 L465.56,372.00 L465.81,370.84 L466.06,369.56 L466.32,368.18 L466.57,366.71 L466.82,365.17 L467.07,363.56 L467.32,361.91 L467.57,360.24 L467.83,358.56 L468.08,356.89 L468.33,355.24 L468.58,353.63 L468.83,352.09 L469.08,350.62 L469.34,349.24 L469.59,347.96 L469.84,346.80 L470.09,345.78 L470.34,344.89 L470.59,344.15 L470.85,343.56 L471.10,343.14 L471.35,342.89 L471.60,342.80 L471.85,342.82 L472.10,342.88 L472.35,342.98 L472.60,343.12 L472.86,343.30 L473.11,343.52 L473.36,343.77 L473.61,344.06 L473.86,344.38 L474.11,344.74 L474.36,345.13 L474.61,345.54 L474.87,345.98 L475.12,346.44 L475.37,346.92 L475.62,347.43 L475.87,347.95 L476.12,348.48 L476.37,349.02 L476.62,349.57 L476.87,350.12 L477.13,350.68 L477.38,351.23 L477.63,351.78 L477.88,352.32 L478.13,352.85 L478.38,353.37 L478.63,353.88 L478.88,354.36 L479.13,354.82 L479.39,355.26 L479.64,355.67 L479.89,356.06 L480.14,356.42 L480.39,356.74 L480.64,357.03 L480.89,357.28 L481.14,357.50 L481.40,357.68 L481.65,357.82 L481.90,357.92 L482.15,357.98 L482.40,358.00 L482.65,357.99 L482.91,357.97 L483.16,357.93 L483.42,357.88 L483.67,357.81 L483.92,357.72 L484.18,357.62 L484.43,357.51 L484.69,357.38 L484.94,357.25 L485.20,357.09 L485.45,356.93 L485.70,356.76 L485.96,356.57 L486.21,356.38 L486.47,356.18 L486.72,355.96 L486.98,355.75 L487.23,355.52 L487.48,355.29 L487.74,355.06 L487.99,354.83 L488.25,354.59 L488.50,354.35 L488.75,354.11 L489.01,353.87 L489.26,353.64 L489.52,353.41 L489.77,353.18 L490.02,352.95 L490.28,352.74 L490.53,352.52 L490.79,352.32 L491.04,352.13 L491.30,351.94 L491.55,351.77 L491.80,351.61 L492.06,351.45 L492.31,351.32 L492.57,351.19 L492.82,351.08 L493.08,350.98 L493.33,350.89 L493.58,350.82 L493.84,350.77 L494.09,350.73 L494.35,350.71 L494.60,350.70 L494.85,350.70 L495.11,350.71 L495.36,350.72 L495.61,350.74 L495.87,350.76 L496.12,350.79 L496.37,350.82 L496.63,350.86 L496.88,350.90 L497.13,350.95 L497.39,350.99 L497.64,351.05 L497.89,351.10 L498.15,351.16 L498.40,351.23 L498.65,351.29 L498.91,351.36 L499.16,351.43 L499.41,351.50 L499.67,351.57 L499.92,351.64 L500.17,351.71 L500.43,351.79 L500.68,351.86 L500.93,351.93 L501.19,352.00 L501.44,352.07 L501.69,352.14 L501.95,352.21 L502.20,352.28 L502.45,352.34 L502.71,352.40 L502.96,352.45 L503.21,352.51 L503.47,352.55 L503.72,352.60 L503.97,352.64 L504.23,352.68 L504.48,352.71 L504.73,352.74 L504.99,352.76 L505.24,352.78 L505.49,352.79 L505.75,352.80 L506.00,352.80 L506.25,352.80 L506.50,352.80 L506.75,352.80 L507.00,352.79 L507.25,352.79 L507.50,352.79 L507.75,352.78 L508.00,352.78 L508.25,352.78 L508.50,352.77 L508.75,352.76 L509.00,352.76 L509.25,352.75 L509.50,352.74 L509.75,352.73 L510.00,352.72 L510.25,352.72 L510.50,352.71 L510.75,352.70 L511.00,352.69 L511.25,352.68 L511.50,352.67 L511.75,352.66 L512.00,352.64 L512.25,352.63 L512.50,352.62 L512.75,352.61 L513.00,352.60 L513.25,352.59 L513.50,352.58 L513.75,352.57 L514.00,352.56 L514.25,352.54 L514.50,352.53 L514.75,352.52 L515.00,352.51 L515.25,352.50 L515.50,352.49 L515.75,352.48 L516.00,352.48 L516.25,352.47 L516.50,352.46 L516.75,352.45 L517.00,352.44 L517.25,352.44 L517.50,352.43 L517.75,352.42 L518.00,352.42 L518.25,352.42 L518.50,352.41 L518.75,352.41 L519.00,352.41 L519.25,352.40 L519.50,352.40 L519.75,352.40 L520.00,352.40 L520.25,352.40 L520.50,352.40 L520.75,352.40 L521.00,352.40 L521.25,352.40 L521.50,352.40 L521.75,352.40 L522.00,352.40 L522.25,352.40 L522.50,352.40 L522.75,352.40 L523.00,352.40 L523.25,352.40 L523.50,352.40 L523.75,352.40 L524.00,352.40 L524.25,352.40 L524.50,352.40 L524.75,352.40 L525.00,352.40 L525.25,352.40 L525.50,352.40 L525.75,352.40 L526.00,352.40 L526.25,352.40 L526.50,352.40 L526.75,352.40 L527.00,352.40 L527.25,352.40 L527.50,352.40 L527.75,352.40 L528.00,352.40 L528.25,352.40 L528.50,352.40 L528.75,352.40 L529.00,352.40 L529.25,352.40 L529.50,352.40 L529.75,352.40 L530.00,352.40 L530.25,352.40 L530.50,352.40 L530.75,352.40 L531.00,352.40 L531.25,352.40 L531.50,352.40 L531.75,352.40 L532.00,352.40 L532.25,352.40 L532.50,352.40 L532.75,352.40 L533.00,352.40 L533.25,352.40 L533.50,352.40 L533.75,352.40 L534.00,352.40 L534.25,352.40 L534.50,352.40 L534.75,352.40 L535.00,352.40 L535.25,352.40 L535.50,352.40 L535.75,352.40 L536.00,352.40 L536.25,352.40 L536.50,352.40 L536.75,352.40 L537.00,352.40 L537.25,352.40 L537.50,352.40 L537.75,352.40 L538.00,352.40 L538.25,352.40 L538.50,352.40 L538.75,352.40 L539.00,352.40 L539.25,352.40 L539.50,352.40 L539.75,352.40 L540.00,352.40 L540.25,352.40 L540.50,352.40 L540.75,352.40 L541.00,352.40 L541.25,352.40 L541.50,352.40 L541.75,352.40 L542.00,352.40 L542.25,352.40 L542.50,352.40 L542.75,352.40 L543.00,352.40 L543.25,352.40 L543.50,352.40 L543.75,352.40 L544.00,352.40 L544.25,352.40 L544.50,352.40" fill="none" stroke="#3ea8dc" stroke-width="1.35" stroke-linejoin="round"/>
<line x1="352.70" y1="354.10" x2="427.80" y2="308.40" stroke="#f0805a" stroke-width="1.1"/>
<line x1="352.70" y1="348.00" x2="421.80" y2="396.00" stroke="#f2bd4a" stroke-width="1.1"/>
<circle cx="357.5" cy="351.5" r="1.6" fill="none" stroke="#666" stroke-width="0.7"/>
<text x="325.50" y="341.60" font-size="5.9" font-weight="bold" text-anchor="start" fill="#111" stroke="#111" stroke-width="0.2" >Start point is 2705</text>
<rect x="438.40" y="297.90" width="104.80" height="31.10" fill="#fff" stroke="#aaa" stroke-width="0.8"/>
<line x1="439.60" y1="303.08" x2="443.80" y2="303.08" stroke="#3ea8dc" stroke-width="1.2"/>
<text x="444.40" y="306.18" font-size="9.15" font-weight="bold" text-anchor="start" fill="#111" stroke="#111" stroke-width="0.2" >Denoised signal</text>
<line x1="439.60" y1="313.45" x2="443.80" y2="313.45" stroke="#f0805a" stroke-width="1.2"/>
<text x="444.40" y="316.55" font-size="9.15" font-weight="bold" text-anchor="start" fill="#111" stroke="#111" stroke-width="0.2" >Upper characteristic line</text>
<line x1="439.60" y1="323.82" x2="443.80" y2="323.82" stroke="#f2bd4a" stroke-width="1.2"/>
<text x="444.40" y="326.92" font-size="9.15" font-weight="bold" text-anchor="start" fill="#111" stroke="#111" stroke-width="0.2" >Lower characteristic line</text></svg>
</body></html>
